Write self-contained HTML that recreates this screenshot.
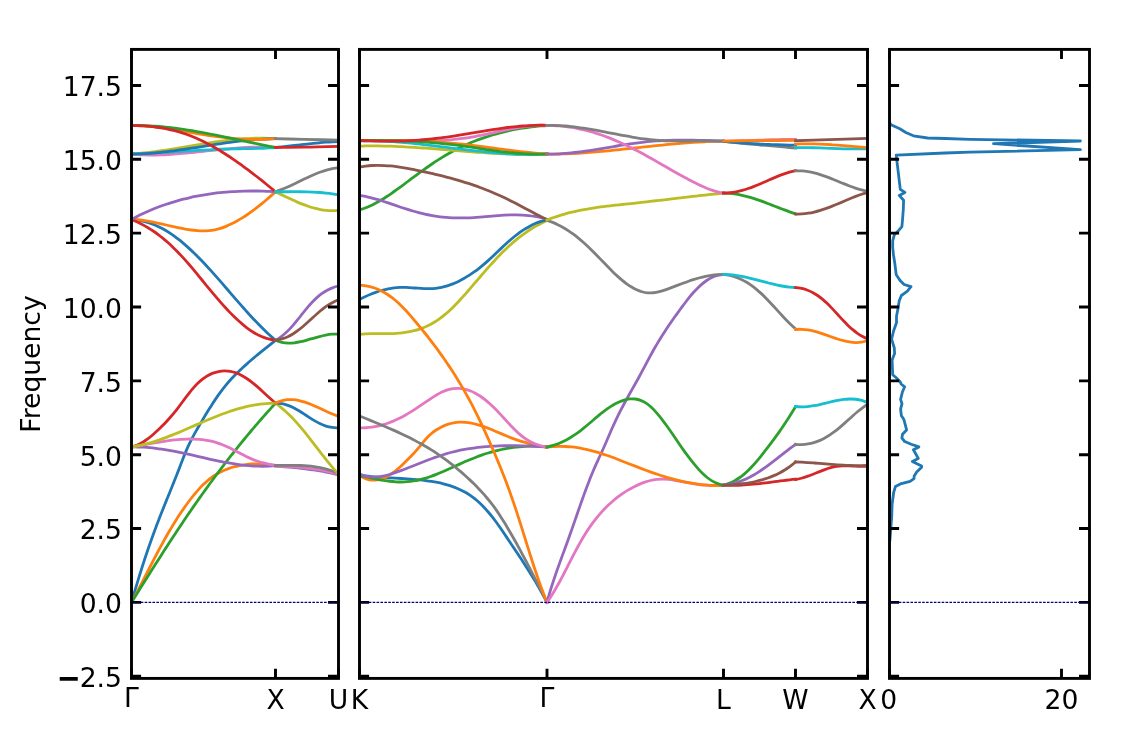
<!DOCTYPE html><html><head><meta charset="utf-8"><style>html,body{margin:0;padding:0;background:#fff;width:1125px;height:732px;overflow:hidden}svg{display:block;will-change:transform}text{font-family:"DejaVu Sans","Liberation Sans",sans-serif;font-size:26.6px;fill:#000}</style></head><body>
<svg width="1125" height="732" viewBox="0 0 1125 732">
<rect width="1125" height="732" fill="#fff"/>
<defs>
<clipPath id="cL"><rect x="131.5" y="49.4" width="207.0" height="629.0"/></clipPath>
<clipPath id="cM"><rect x="359.5" y="49.4" width="508.0" height="629.0"/></clipPath>
<clipPath id="cD"><rect x="889.5" y="49.4" width="200.0" height="629.0"/></clipPath>
</defs>
<g clip-path="url(#cL)" fill="none" stroke-width="2.8" stroke-linecap="square" stroke-linejoin="round">
<path stroke="#1f77b4" d="M131.5,602.4C132.06,600.45 132.62,598.5 133.19,596.56C133.75,594.61 134.32,592.66 134.9,590.72C135.47,588.77 136.05,586.83 136.64,584.88C137.22,582.94 137.81,581 138.4,579.05C139,577.11 139.6,575.17 140.2,573.23C140.81,571.29 141.42,569.35 142.04,567.41C142.66,565.48 143.28,563.54 143.91,561.6C144.54,559.67 145.18,557.73 145.82,555.8C146.46,553.87 147.11,551.94 147.77,550.01C148.43,548.08 149.09,546.15 149.76,544.22C150.44,542.29 151.12,540.37 151.8,538.45C152.49,536.52 153.19,534.6 153.89,532.68C154.59,530.76 155.31,528.84 156.03,526.93C156.75,525.01 157.48,523.09 158.21,521.18C158.95,519.27 159.7,517.36 160.45,515.45C161.2,513.54 161.96,511.64 162.72,509.73C163.48,507.83 164.24,505.93 165.01,504.03C165.77,502.13 166.54,500.23 167.31,498.34C168.08,496.44 168.85,494.55 169.61,492.66C170.38,490.77 171.14,488.88 171.9,487C172.66,485.12 173.42,483.23 174.17,481.36C174.92,479.48 175.67,477.6 176.4,475.73C177.14,473.85 177.87,471.98 178.59,470.12C179.31,468.25 180.02,466.38 180.73,464.52C181.44,462.66 182.15,460.8 182.87,458.95C183.59,457.09 184.33,455.24 185.09,453.39C185.85,451.55 186.63,449.7 187.45,447.86C188.27,446.02 189.12,444.18 190.02,442.34C190.92,440.51 191.87,438.68 192.84,436.85C193.82,435.03 194.82,433.21 195.85,431.39C196.87,429.58 197.92,427.77 198.97,425.98C200.03,424.18 201.08,422.39 202.14,420.61C203.2,418.83 204.25,417.06 205.31,415.31C206.37,413.55 207.44,411.81 208.51,410.08C209.58,408.35 210.66,406.63 211.75,404.93C212.84,403.23 213.94,401.55 215.06,399.88C216.18,398.21 217.31,396.56 218.46,394.93C219.62,393.29 220.8,391.68 222,390.09C223.21,388.49 224.45,386.92 225.73,385.37C227,383.82 228.32,382.29 229.67,380.78C231.02,379.27 232.41,377.79 233.82,376.32C235.24,374.85 236.68,373.4 238.15,371.97C239.62,370.54 241.11,369.12 242.62,367.73C244.13,366.33 245.66,364.95 247.21,363.58C248.75,362.22 250.31,360.87 251.88,359.53C253.45,358.19 255.03,356.87 256.61,355.55C258.19,354.24 259.78,352.94 261.37,351.65C262.95,350.36 264.54,349.09 266.12,347.82C267.7,346.55 269.28,345.29 270.84,344.04C272.41,342.78 273.96,341.54 275.5,340.3"/>
<path stroke="#ff7f0e" d="M131.5,602.4C132.44,600.67 133.38,598.92 134.32,597.17C135.25,595.42 136.18,593.67 137.1,591.91C138.03,590.14 138.95,588.38 139.87,586.6C140.79,584.83 141.7,583.05 142.62,581.27C143.54,579.49 144.45,577.71 145.37,575.93C146.28,574.14 147.2,572.35 148.12,570.56C149.03,568.78 149.95,566.99 150.87,565.2C151.8,563.41 152.72,561.62 153.65,559.83C154.58,558.04 155.51,556.26 156.45,554.48C157.39,552.69 158.34,550.91 159.29,549.14C160.24,547.36 161.2,545.59 162.17,543.82C163.14,542.05 164.11,540.29 165.1,538.54C166.08,536.78 167.08,535.03 168.08,533.29C169.09,531.55 170.11,529.81 171.14,528.09C172.17,526.36 173.21,524.65 174.26,522.94C175.32,521.23 176.39,519.54 177.47,517.85C178.55,516.16 179.65,514.49 180.77,512.83C181.88,511.17 183.01,509.52 184.16,507.88C185.31,506.25 186.47,504.62 187.66,503.02C188.84,501.41 190.05,499.81 191.27,498.24C192.49,496.66 193.74,495.11 195.02,493.58C196.29,492.05 197.59,490.55 198.93,489.09C200.26,487.63 201.63,486.2 203.04,484.83C204.45,483.45 205.9,482.12 207.4,480.85C208.89,479.57 210.43,478.36 212.03,477.2C213.62,476.05 215.27,474.97 216.97,473.96C218.67,472.95 220.43,472.01 222.25,471.16C224.06,470.3 225.93,469.52 227.83,468.82C229.73,468.12 231.66,467.5 233.63,466.95C235.59,466.4 237.57,465.93 239.57,465.54C241.57,465.14 243.59,464.82 245.61,464.57C247.64,464.32 249.67,464.13 251.69,464.02C253.72,463.9 255.75,463.85 257.77,463.86C259.79,463.87 261.8,463.94 263.8,464.07C265.79,464.2 267.77,464.39 269.72,464.63C271.68,464.86 273.6,465.16 275.5,465.5"/>
<path stroke="#2ca02c" d="M131.5,602.4C132.56,600.7 133.63,599 134.69,597.29C135.75,595.59 136.81,593.89 137.88,592.19C138.94,590.49 140,588.79 141.07,587.09C142.13,585.39 143.19,583.69 144.26,582C145.32,580.3 146.39,578.6 147.46,576.91C148.52,575.21 149.59,573.52 150.66,571.83C151.73,570.14 152.8,568.44 153.87,566.75C154.94,565.06 156.02,563.37 157.09,561.69C158.17,560 159.24,558.31 160.32,556.63C161.4,554.94 162.48,553.26 163.56,551.58C164.64,549.9 165.73,548.22 166.82,546.54C167.9,544.86 168.99,543.19 170.08,541.51C171.18,539.84 172.27,538.16 173.37,536.49C174.46,534.82 175.56,533.15 176.67,531.49C177.77,529.82 178.88,528.15 179.99,526.49C181.09,524.83 182.21,523.17 183.32,521.51C184.44,519.85 185.56,518.2 186.68,516.54C187.81,514.89 188.93,513.24 190.06,511.59C191.19,509.94 192.33,508.3 193.47,506.65C194.61,505.01 195.75,503.37 196.9,501.73C198.05,500.09 199.2,498.46 200.36,496.83C201.51,495.19 202.67,493.57 203.84,491.94C205,490.31 206.18,488.69 207.35,487.07C208.52,485.45 209.7,483.83 210.89,482.22C212.07,480.6 213.26,478.99 214.45,477.38C215.65,475.78 216.85,474.17 218.05,472.57C219.25,470.97 220.46,469.37 221.67,467.78C222.88,466.18 224.1,464.59 225.32,463.01C226.55,461.42 227.77,459.84 229,458.26C230.23,456.68 231.47,455.1 232.71,453.53C233.95,451.96 235.2,450.39 236.45,448.82C237.7,447.26 238.96,445.7 240.22,444.14C241.48,442.59 242.75,441.04 244.02,439.49C245.29,437.94 246.56,436.4 247.84,434.86C249.13,433.32 250.41,431.78 251.7,430.25C252.99,428.72 254.29,427.2 255.59,425.67C256.89,424.15 258.2,422.63 259.51,421.12C260.82,419.61 262.14,418.1 263.46,416.6C264.78,415.09 266.11,413.6 267.44,412.1C268.77,410.61 270.11,409.12 271.46,407.64C272.8,406.15 274.15,404.67 275.5,403.2"/>
<path stroke="#d62728" d="M131.5,447C133.51,446.52 135.46,445.85 137.35,445.04C139.24,444.23 141.07,443.27 142.84,442.2C144.62,441.13 146.34,439.95 148.01,438.7C149.68,437.45 151.3,436.12 152.88,434.76C154.46,433.39 156,431.99 157.5,430.59C159,429.18 160.46,427.77 161.89,426.34C163.32,424.91 164.72,423.46 166.09,422C167.46,420.53 168.81,419.04 170.13,417.53C171.46,416.02 172.76,414.48 174.05,412.9C175.34,411.33 176.62,409.72 177.88,408.08C179.15,406.44 180.4,404.75 181.66,403.04C182.92,401.33 184.18,399.61 185.46,397.89C186.73,396.16 188.03,394.45 189.35,392.77C190.68,391.08 192.04,389.43 193.44,387.84C194.84,386.25 196.28,384.71 197.79,383.26C199.29,381.81 200.86,380.44 202.49,379.19C204.12,377.93 205.8,376.78 207.55,375.77C209.29,374.75 211.08,373.88 212.92,373.16C214.76,372.44 216.65,371.89 218.56,371.51C220.48,371.13 222.42,370.92 224.37,370.88C226.33,370.85 228.29,370.99 230.24,371.31C232.19,371.64 234.12,372.15 236.03,372.84C237.94,373.53 239.82,374.4 241.66,375.4C243.51,376.39 245.32,377.51 247.09,378.72C248.87,379.93 250.6,381.21 252.29,382.54C253.98,383.87 255.63,385.25 257.25,386.65C258.87,388.06 260.45,389.48 262.01,390.91C263.57,392.34 265.1,393.77 266.61,395.18C268.12,396.59 269.62,397.98 271.1,399.33C272.57,400.67 274.04,401.97 275.5,403.2"/>
<path stroke="#9467bd" d="M131.5,447C133.54,446.95 135.57,446.94 137.6,446.98C139.63,447.01 141.66,447.09 143.68,447.2C145.7,447.31 147.71,447.46 149.73,447.65C151.74,447.83 153.74,448.05 155.75,448.29C157.75,448.54 159.75,448.81 161.75,449.11C163.75,449.41 165.74,449.73 167.73,450.08C169.73,450.42 171.71,450.79 173.7,451.17C175.69,451.56 177.67,451.96 179.66,452.37C181.64,452.78 183.62,453.21 185.6,453.64C187.58,454.08 189.56,454.52 191.54,454.97C193.52,455.42 195.5,455.87 197.47,456.33C199.45,456.78 201.43,457.23 203.4,457.69C205.38,458.14 207.36,458.59 209.34,459.03C211.32,459.47 213.29,459.9 215.28,460.33C217.26,460.75 219.24,461.16 221.22,461.56C223.2,461.95 225.19,462.33 227.17,462.7C229.16,463.06 231.15,463.4 233.14,463.72C235.13,464.04 237.13,464.33 239.12,464.6C241.12,464.87 243.12,465.11 245.12,465.32C247.13,465.53 249.13,465.71 251.15,465.85C253.16,465.99 255.17,466.1 257.19,466.17C259.21,466.23 261.23,466.26 263.26,466.25C265.29,466.23 267.33,466.17 269.37,466.07C271.4,465.96 273.45,465.81 275.5,465.6"/>
<path stroke="#e377c2" d="M131.5,447C133.57,446.66 135.64,446.31 137.71,445.94C139.78,445.58 141.85,445.21 143.93,444.83C146,444.45 148.07,444.07 150.14,443.7C152.2,443.32 154.27,442.95 156.34,442.6C158.4,442.24 160.47,441.89 162.53,441.57C164.59,441.24 166.65,440.93 168.71,440.65C170.76,440.37 172.82,440.12 174.87,439.9C176.91,439.68 178.96,439.49 181,439.35C183.04,439.2 185.08,439.1 187.11,439.05C189.15,438.99 191.18,438.99 193.2,439.04C195.22,439.09 197.24,439.2 199.25,439.37C201.26,439.54 203.26,439.78 205.26,440.08C207.26,440.39 209.25,440.76 211.23,441.22C213.22,441.67 215.2,442.2 217.16,442.82C219.13,443.44 221.09,444.14 223.05,444.94C225,445.74 226.94,446.62 228.88,447.57C230.82,448.51 232.75,449.51 234.68,450.52C236.61,451.54 238.53,452.57 240.46,453.58C242.38,454.6 244.3,455.59 246.23,456.52C248.15,457.46 250.08,458.33 252.01,459.11C253.94,459.9 255.87,460.61 257.81,461.24C259.75,461.88 261.69,462.45 263.65,462.97C265.6,463.49 267.57,463.95 269.54,464.36C271.51,464.78 273.5,465.16 275.5,465.5"/>
<path stroke="#bcbd22" d="M131.5,447C133.51,446.69 135.5,446.33 137.48,445.93C139.46,445.53 141.43,445.09 143.38,444.61C145.34,444.13 147.29,443.61 149.23,443.06C151.16,442.51 153.09,441.93 155.01,441.32C156.93,440.71 158.84,440.07 160.74,439.4C162.65,438.74 164.54,438.05 166.43,437.33C168.32,436.62 170.21,435.89 172.09,435.14C173.96,434.4 175.84,433.63 177.71,432.86C179.58,432.08 181.44,431.29 183.31,430.49C185.17,429.7 187.03,428.89 188.89,428.08C190.75,427.27 192.61,426.46 194.47,425.65C196.32,424.84 198.18,424.02 200.04,423.22C201.9,422.41 203.76,421.61 205.62,420.81C207.48,420.02 209.34,419.23 211.21,418.46C213.08,417.69 214.95,416.93 216.82,416.18C218.69,415.44 220.57,414.71 222.45,414.01C224.34,413.31 226.23,412.62 228.12,411.96C230.02,411.31 231.92,410.67 233.83,410.07C235.74,409.47 237.66,408.89 239.59,408.35C241.51,407.82 243.45,407.31 245.4,406.84C247.34,406.37 249.3,405.94 251.27,405.56C253.24,405.17 255.21,404.82 257.21,404.53C259.2,404.23 261.2,403.97 263.22,403.77C265.24,403.57 267.27,403.42 269.32,403.32C271.36,403.23 273.42,403.18 275.5,403.2"/>
<path stroke="#1f77b4" d="M131.5,219.5C133.58,219.62 135.62,219.83 137.63,220.13C139.64,220.43 141.61,220.82 143.55,221.28C145.49,221.75 147.4,222.29 149.27,222.91C151.14,223.52 152.99,224.21 154.8,224.97C156.61,225.72 158.4,226.54 160.15,227.43C161.91,228.31 163.64,229.25 165.34,230.24C167.04,231.24 168.71,232.29 170.36,233.38C172.01,234.48 173.64,235.62 175.24,236.8C176.84,237.98 178.42,239.21 179.98,240.46C181.54,241.72 183.08,243.01 184.6,244.33C186.12,245.65 187.62,246.99 189.1,248.36C190.58,249.72 192.05,251.11 193.49,252.51C194.94,253.92 196.38,255.33 197.79,256.76C199.21,258.19 200.62,259.63 202.01,261.08C203.4,262.53 204.78,263.99 206.15,265.46C207.52,266.93 208.88,268.41 210.23,269.9C211.58,271.38 212.92,272.88 214.26,274.38C215.59,275.88 216.92,277.38 218.24,278.89C219.57,280.4 220.88,281.92 222.2,283.43C223.51,284.95 224.82,286.47 226.13,287.99C227.44,289.51 228.74,291.03 230.05,292.55C231.36,294.07 232.66,295.59 233.97,297.11C235.28,298.62 236.59,300.14 237.9,301.65C239.22,303.16 240.54,304.67 241.86,306.17C243.18,307.67 244.51,309.17 245.84,310.65C247.18,312.14 248.52,313.62 249.87,315.1C251.22,316.57 252.58,318.03 253.95,319.49C255.32,320.94 256.7,322.38 258.09,323.81C259.48,325.24 260.89,326.66 262.31,328.07C263.72,329.47 265.16,330.86 266.61,332.24C268.05,333.62 269.52,334.98 271,336.32C272.48,337.66 273.98,338.99 275.5,340.3"/>
<path stroke="#ff7f0e" d="M131.5,219.5C133.45,219.52 135.4,219.61 137.37,219.77C139.33,219.93 141.3,220.15 143.28,220.42C145.26,220.69 147.25,221.01 149.24,221.37C151.23,221.73 153.23,222.12 155.23,222.54C157.23,222.96 159.23,223.41 161.24,223.86C163.24,224.32 165.25,224.79 167.26,225.26C169.26,225.73 171.27,226.19 173.28,226.65C175.29,227.1 177.29,227.54 179.3,227.95C181.3,228.37 183.3,228.75 185.3,229.1C187.29,229.45 189.29,229.76 191.27,230.01C193.26,230.27 195.24,230.47 197.21,230.61C199.18,230.75 201.15,230.83 203.1,230.82C205.06,230.82 207,230.74 208.94,230.57C210.88,230.4 212.8,230.13 214.71,229.77C216.63,229.4 218.53,228.93 220.41,228.35C222.3,227.78 224.17,227.09 226.03,226.33C227.89,225.57 229.73,224.73 231.55,223.83C233.38,222.92 235.18,221.97 236.97,220.97C238.76,219.97 240.53,218.93 242.28,217.84C244.03,216.76 245.76,215.65 247.47,214.49C249.18,213.34 250.86,212.16 252.52,210.94C254.19,209.73 255.82,208.49 257.44,207.23C259.05,205.97 260.64,204.7 262.2,203.41C263.77,202.13 265.3,200.83 266.81,199.53C268.32,198.24 269.79,196.94 271.24,195.65C272.69,194.35 274.11,193.07 275.5,191.8"/>
<path stroke="#d62728" d="M131.5,219.5C133.51,220.3 135.47,221.15 137.38,222.04C139.3,222.94 141.18,223.88 143.01,224.87C144.85,225.85 146.64,226.88 148.4,227.95C150.16,229.02 151.88,230.13 153.57,231.28C155.25,232.43 156.91,233.62 158.53,234.84C160.15,236.06 161.75,237.32 163.31,238.61C164.87,239.9 166.41,241.22 167.92,242.56C169.43,243.91 170.92,245.29 172.38,246.69C173.85,248.09 175.29,249.52 176.72,250.96C178.14,252.41 179.54,253.88 180.93,255.37C182.32,256.86 183.7,258.37 185.06,259.9C186.42,261.42 187.77,262.96 189.11,264.51C190.44,266.07 191.77,267.63 193.1,269.21C194.42,270.79 195.73,272.37 197.04,273.96C198.36,275.56 199.66,277.15 200.97,278.76C202.28,280.36 203.58,281.96 204.89,283.57C206.2,285.18 207.51,286.78 208.83,288.39C210.15,289.99 211.47,291.59 212.8,293.19C214.13,294.78 215.46,296.37 216.81,297.95C218.16,299.53 219.52,301.1 220.9,302.66C222.27,304.22 223.66,305.77 225.07,307.3C226.48,308.83 227.9,310.35 229.35,311.85C230.79,313.34 232.26,314.82 233.75,316.28C235.23,317.74 236.75,319.18 238.28,320.59C239.82,321.99 241.39,323.37 242.98,324.69C244.57,326.02 246.2,327.29 247.85,328.51C249.51,329.73 251.2,330.88 252.92,331.96C254.65,333.04 256.4,334.04 258.2,334.95C260,335.86 261.84,336.68 263.71,337.39C265.59,338.11 267.51,338.72 269.47,339.21C271.44,339.69 273.44,340.06 275.5,340.3"/>
<path stroke="#9467bd" d="M131.5,219.5C133.32,218.49 135.16,217.51 137.01,216.56C138.85,215.62 140.71,214.7 142.58,213.81C144.45,212.92 146.33,212.06 148.23,211.22C150.12,210.39 152.02,209.59 153.93,208.81C155.84,208.03 157.77,207.29 159.7,206.56C161.63,205.84 163.57,205.15 165.52,204.49C167.47,203.82 169.42,203.18 171.39,202.57C173.35,201.95 175.33,201.37 177.31,200.81C179.29,200.25 181.28,199.71 183.27,199.21C185.27,198.7 187.27,198.21 189.28,197.76C191.29,197.3 193.3,196.86 195.32,196.46C197.34,196.05 199.36,195.66 201.39,195.3C203.42,194.94 205.46,194.6 207.5,194.29C209.54,193.98 211.58,193.69 213.63,193.42C215.68,193.16 217.73,192.91 219.78,192.69C221.83,192.47 223.89,192.27 225.95,192.09C228.01,191.92 230.07,191.76 232.13,191.63C234.19,191.5 236.26,191.38 238.33,191.29C240.39,191.2 242.46,191.13 244.53,191.08C246.59,191.03 248.66,191 250.73,190.99C252.8,190.98 254.87,190.99 256.93,191.02C259,191.05 261.07,191.1 263.13,191.17C265.2,191.24 267.26,191.32 269.32,191.43C271.38,191.53 273.44,191.66 275.5,191.8"/>
<path stroke="#e377c2" d="M131.5,154.3C133.51,154.47 135.53,154.6 137.54,154.71C139.55,154.82 141.56,154.9 143.56,154.96C145.57,155.01 147.58,155.04 149.58,155.04C151.59,155.05 153.59,155.03 155.6,154.99C157.6,154.95 159.6,154.89 161.61,154.81C163.61,154.73 165.61,154.64 167.61,154.52C169.61,154.41 171.61,154.28 173.6,154.14C175.6,154 177.6,153.84 179.6,153.67C181.6,153.51 183.59,153.33 185.59,153.14C187.58,152.96 189.58,152.76 191.58,152.56C193.57,152.36 195.57,152.15 197.56,151.94C199.56,151.73 201.55,151.52 203.54,151.3C205.54,151.09 207.53,150.87 209.53,150.66C211.52,150.44 213.52,150.23 215.51,150.02C217.51,149.81 219.5,149.6 221.5,149.4C223.49,149.21 225.49,149.01 227.48,148.83C229.48,148.65 231.47,148.47 233.47,148.31C235.47,148.14 237.46,147.99 239.46,147.85C241.46,147.72 243.46,147.59 245.45,147.48C247.45,147.38 249.45,147.28 251.45,147.21C253.45,147.14 255.45,147.08 257.45,147.05C259.46,147.02 261.46,147.01 263.46,147.02C265.47,147.03 267.47,147.07 269.48,147.13C271.48,147.19 273.49,147.28 275.5,147.4"/>
<path stroke="#bcbd22" d="M131.5,154C133.51,153.88 135.52,153.73 137.53,153.57C139.54,153.4 141.55,153.22 143.55,153.01C145.55,152.81 147.56,152.59 149.56,152.35C151.56,152.11 153.56,151.86 155.55,151.59C157.55,151.32 159.55,151.04 161.54,150.75C163.54,150.46 165.53,150.16 167.52,149.84C169.51,149.53 171.51,149.21 173.5,148.89C175.49,148.56 177.48,148.23 179.47,147.89C181.45,147.56 183.44,147.22 185.43,146.88C187.42,146.53 189.41,146.19 191.4,145.85C193.38,145.51 195.37,145.17 197.36,144.83C199.35,144.49 201.34,144.16 203.32,143.83C205.31,143.5 207.3,143.18 209.29,142.87C211.28,142.55 213.27,142.25 215.26,141.95C217.25,141.66 219.25,141.37 221.24,141.1C223.23,140.83 225.23,140.57 227.22,140.33C229.22,140.09 231.22,139.86 233.21,139.65C235.21,139.44 237.21,139.25 239.22,139.08C241.22,138.91 243.22,138.76 245.23,138.63C247.23,138.5 249.24,138.39 251.25,138.31C253.26,138.23 255.27,138.18 257.29,138.15C259.3,138.12 261.32,138.12 263.34,138.15C265.36,138.18 267.39,138.24 269.41,138.33C271.44,138.42 273.47,138.54 275.5,138.7"/>
<path stroke="#17becf" d="M131.5,154C133.5,153.94 135.5,153.87 137.5,153.79C139.5,153.71 141.5,153.63 143.5,153.54C145.5,153.45 147.5,153.36 149.5,153.26C151.5,153.16 153.5,153.05 155.5,152.94C157.5,152.84 159.5,152.72 161.5,152.61C163.5,152.49 165.5,152.37 167.5,152.25C169.5,152.13 171.5,152.01 173.5,151.89C175.5,151.77 177.5,151.64 179.5,151.52C181.49,151.39 183.49,151.27 185.49,151.15C187.49,151.02 189.49,150.9 191.49,150.78C193.49,150.66 195.49,150.54 197.49,150.43C199.49,150.31 201.49,150.2 203.49,150.09C205.49,149.98 207.49,149.88 209.49,149.78C211.49,149.68 213.49,149.58 215.49,149.49C217.49,149.4 219.49,149.32 221.49,149.24C223.49,149.16 225.49,149.09 227.49,149.03C229.49,148.97 231.49,148.91 233.49,148.86C235.49,148.82 237.49,148.78 239.49,148.75C241.49,148.71 243.49,148.69 245.49,148.66C247.49,148.63 249.49,148.6 251.49,148.57C253.49,148.53 255.49,148.49 257.49,148.44C259.49,148.39 261.49,148.32 263.49,148.24C265.5,148.16 267.5,148.06 269.5,147.94C271.5,147.82 273.5,147.67 275.5,147.5"/>
<path stroke="#1f77b4" d="M131.5,154C133.52,153.99 135.53,153.96 137.55,153.9C139.56,153.84 141.57,153.76 143.58,153.66C145.59,153.56 147.6,153.44 149.6,153.29C151.61,153.15 153.61,152.99 155.61,152.81C157.62,152.63 159.62,152.43 161.62,152.22C163.62,152.01 165.61,151.79 167.61,151.55C169.61,151.31 171.6,151.06 173.6,150.8C175.59,150.53 177.59,150.26 179.58,149.98C181.57,149.7 183.56,149.41 185.56,149.11C187.55,148.81 189.54,148.51 191.53,148.2C193.52,147.9 195.51,147.59 197.5,147.27C199.49,146.96 201.48,146.64 203.47,146.33C205.46,146.01 207.45,145.7 209.44,145.39C211.43,145.07 213.42,144.76 215.41,144.45C217.41,144.15 219.4,143.85 221.39,143.55C223.38,143.25 225.37,142.97 227.37,142.68C229.36,142.4 231.36,142.13 233.35,141.87C235.35,141.61 237.35,141.36 239.35,141.12C241.34,140.88 243.34,140.66 245.34,140.45C247.35,140.24 249.35,140.04 251.35,139.87C253.36,139.69 255.36,139.53 257.37,139.39C259.38,139.25 261.39,139.13 263.4,139.03C265.41,138.93 267.43,138.85 269.44,138.79C271.46,138.74 273.48,138.71 275.5,138.7"/>
<path stroke="#ff7f0e" d="M131.5,125.5C133.52,125.5 135.53,125.53 137.54,125.59C139.55,125.66 141.56,125.76 143.56,125.89C145.57,126.02 147.57,126.18 149.57,126.36C151.57,126.55 153.57,126.76 155.57,126.99C157.57,127.22 159.56,127.48 161.56,127.75C163.55,128.02 165.54,128.31 167.54,128.61C169.53,128.91 171.52,129.22 173.51,129.55C175.5,129.87 177.49,130.21 179.48,130.55C181.47,130.89 183.45,131.23 185.44,131.58C187.43,131.93 189.42,132.27 191.4,132.62C193.39,132.96 195.38,133.31 197.36,133.64C199.35,133.98 201.34,134.31 203.33,134.63C205.31,134.95 207.3,135.25 209.29,135.55C211.28,135.85 213.27,136.13 215.26,136.4C217.25,136.67 219.24,136.93 221.23,137.17C223.22,137.42 225.22,137.64 227.21,137.85C229.21,138.06 231.2,138.25 233.2,138.43C235.2,138.6 237.2,138.75 239.2,138.89C241.2,139.02 243.21,139.14 245.21,139.23C247.22,139.32 249.23,139.39 251.24,139.43C253.25,139.47 255.26,139.49 257.28,139.49C259.29,139.48 261.31,139.45 263.33,139.39C265.35,139.34 267.38,139.25 269.41,139.13C271.43,139.02 273.47,138.88 275.5,138.7"/>
<path stroke="#2ca02c" d="M131.5,125.5C133.54,125.47 135.57,125.46 137.61,125.47C139.64,125.49 141.67,125.53 143.7,125.59C145.73,125.65 147.75,125.74 149.77,125.84C151.8,125.95 153.82,126.08 155.84,126.23C157.86,126.38 159.87,126.54 161.89,126.73C163.9,126.92 165.92,127.12 167.93,127.34C169.94,127.56 171.95,127.8 173.95,128.06C175.96,128.31 177.97,128.58 179.97,128.86C181.98,129.15 183.98,129.45 185.98,129.76C187.98,130.07 189.98,130.39 191.98,130.72C193.98,131.06 195.97,131.4 197.97,131.76C199.96,132.11 201.96,132.48 203.95,132.85C205.95,133.23 207.94,133.61 209.93,134C211.92,134.39 213.91,134.78 215.9,135.18C217.89,135.58 219.88,135.99 221.87,136.4C223.86,136.81 225.85,137.23 227.83,137.64C229.82,138.06 231.81,138.48 233.79,138.9C235.78,139.32 237.77,139.74 239.75,140.16C241.74,140.59 243.72,141.01 245.71,141.43C247.69,141.84 249.68,142.26 251.66,142.68C253.65,143.09 255.64,143.5 257.62,143.91C259.61,144.31 261.59,144.72 263.58,145.11C265.56,145.51 267.55,145.9 269.54,146.28C271.52,146.66 273.51,147.03 275.5,147.4"/>
<path stroke="#d62728" d="M131.5,125.5C133.58,125.5 135.66,125.53 137.71,125.59C139.77,125.65 141.82,125.74 143.85,125.87C145.89,125.99 147.91,126.15 149.92,126.34C151.93,126.54 153.93,126.76 155.91,127.03C157.9,127.29 159.87,127.59 161.83,127.92C163.8,128.26 165.75,128.63 167.68,129.04C169.62,129.45 171.55,129.9 173.46,130.38C175.38,130.87 177.28,131.39 179.17,131.95C181.06,132.52 182.94,133.12 184.81,133.77C186.68,134.41 188.54,135.09 190.39,135.81C192.23,136.54 194.07,137.29 195.89,138.09C197.71,138.88 199.53,139.71 201.33,140.56C203.13,141.42 204.92,142.31 206.7,143.23C208.48,144.15 210.25,145.1 212.01,146.07C213.77,147.04 215.52,148.04 217.25,149.07C218.99,150.09 220.72,151.13 222.44,152.2C224.15,153.27 225.86,154.35 227.55,155.46C229.25,156.56 230.94,157.69 232.61,158.83C234.29,159.96 235.95,161.12 237.61,162.29C239.26,163.45 240.91,164.63 242.55,165.82C244.18,167.01 245.81,168.21 247.42,169.42C249.04,170.63 250.65,171.85 252.24,173.07C253.84,174.29 255.43,175.52 257.01,176.75C258.58,177.99 260.15,179.23 261.71,180.47C263.27,181.71 264.82,182.96 266.36,184.22C267.9,185.47 269.44,186.73 270.96,188C272.48,189.26 274,190.53 275.5,191.8"/>
<path stroke="#9467bd" d="M275.5,466.2C277.62,466.32 279.73,466.46 281.85,466.6C283.97,466.75 286.08,466.91 288.2,467.08C290.31,467.26 292.43,467.44 294.54,467.65C296.66,467.85 298.77,468.07 300.88,468.31C302.99,468.54 305.1,468.8 307.2,469.07C309.31,469.34 311.41,469.64 313.51,469.95C315.61,470.26 317.7,470.59 319.8,470.95C321.89,471.31 323.98,471.68 326.06,472.09C328.14,472.49 330.22,472.92 332.29,473.37C334.37,473.82 336.44,474.3 338.5,474.8"/>
<path stroke="#e377c2" d="M275.5,466C277.62,466.07 279.74,466.15 281.86,466.24C283.98,466.33 286.1,466.43 288.22,466.54C290.34,466.66 292.47,466.79 294.59,466.94C296.71,467.09 298.83,467.27 300.95,467.46C303.06,467.65 305.18,467.87 307.29,468.12C309.4,468.36 311.51,468.63 313.61,468.93C315.71,469.24 317.81,469.57 319.9,469.94C321.99,470.31 324.07,470.71 326.15,471.15C328.22,471.6 330.29,472.08 332.35,472.6C334.41,473.12 336.46,473.69 338.5,474.3"/>
<path stroke="#7f7f7f" d="M275.5,465.5C277.61,465.46 279.74,465.42 281.87,465.39C284,465.35 286.14,465.32 288.28,465.3C290.42,465.29 292.57,465.29 294.71,465.32C296.86,465.35 299,465.4 301.15,465.49C303.29,465.58 305.42,465.71 307.55,465.89C309.68,466.07 311.81,466.29 313.92,466.58C316.03,466.86 318.13,467.21 320.22,467.62C322.3,468.03 324.37,468.51 326.43,469.08C328.48,469.64 330.51,470.28 332.53,471.02C334.54,471.75 336.53,472.57 338.5,473.5"/>
<path stroke="#bcbd22" d="M275.5,403.2C277.24,404.45 278.93,405.75 280.58,407.09C282.22,408.43 283.83,409.81 285.39,411.23C286.96,412.65 288.49,414.1 289.98,415.58C291.48,417.07 292.94,418.58 294.38,420.13C295.81,421.67 297.22,423.24 298.6,424.83C299.99,426.42 301.35,428.03 302.69,429.66C304.04,431.29 305.36,432.93 306.68,434.59C307.99,436.24 309.3,437.91 310.59,439.58C311.89,441.26 313.18,442.94 314.46,444.62C315.75,446.3 317.03,447.99 318.32,449.67C319.61,451.35 320.9,453.02 322.2,454.69C323.49,456.36 324.8,458.02 326.12,459.67C327.44,461.31 328.77,462.95 330.13,464.56C331.48,466.18 332.85,467.78 334.24,469.35C335.64,470.93 337.05,472.48 338.5,474"/>
<path stroke="#1f77b4" d="M275.5,403.2C277.71,403.17 279.84,403.36 281.9,403.73C283.96,404.1 285.94,404.64 287.88,405.33C289.81,406.01 291.69,406.83 293.53,407.75C295.37,408.67 297.17,409.68 298.95,410.76C300.73,411.83 302.49,412.96 304.24,414.1C305.99,415.25 307.73,416.41 309.49,417.55C311.24,418.69 313,419.8 314.79,420.85C316.58,421.9 318.4,422.89 320.25,423.77C322.11,424.65 324,425.43 325.96,426.06C327.91,426.7 329.92,427.18 332.01,427.49C334.09,427.79 336.25,427.91 338.5,427.8"/>
<path stroke="#ff7f0e" d="M275.5,403.2C277.47,402.17 279.44,401.39 281.41,400.82C283.38,400.25 285.34,399.89 287.31,399.71C289.27,399.53 291.23,399.53 293.18,399.68C295.13,399.83 297.08,400.13 299.03,400.55C300.97,400.97 302.9,401.51 304.83,402.14C306.76,402.77 308.68,403.48 310.6,404.26C312.51,405.03 314.42,405.86 316.31,406.72C318.2,407.58 320.09,408.46 321.96,409.34C323.84,410.22 325.7,411.09 327.55,411.93C329.4,412.77 331.24,413.58 333.07,414.32C334.89,415.05 336.7,415.73 338.5,416.3"/>
<path stroke="#2ca02c" d="M275.5,340.3C277.62,341.23 279.73,341.9 281.83,342.35C283.94,342.8 286.04,343.03 288.13,343.08C290.23,343.14 292.32,343.02 294.4,342.77C296.49,342.52 298.58,342.15 300.66,341.69C302.75,341.23 304.83,340.69 306.92,340.11C309,339.53 311.09,338.91 313.18,338.3C315.27,337.69 317.36,337.08 319.45,336.53C321.55,335.98 323.65,335.48 325.76,335.08C327.87,334.68 329.98,334.37 332.1,334.21C334.23,334.05 336.36,334.03 338.5,334.2"/>
<path stroke="#9467bd" d="M275.5,340.3C277.29,339.31 278.98,338.21 280.61,337.03C282.23,335.85 283.78,334.59 285.27,333.27C286.76,331.94 288.19,330.55 289.58,329.1C290.97,327.66 292.31,326.17 293.62,324.64C294.93,323.12 296.22,321.56 297.48,319.99C298.75,318.42 300,316.83 301.25,315.24C302.5,313.65 303.75,312.07 305.01,310.5C306.28,308.93 307.55,307.38 308.86,305.87C310.16,304.35 311.49,302.87 312.87,301.44C314.24,300.02 315.66,298.64 317.14,297.33C318.61,296.02 320.14,294.78 321.74,293.63C323.35,292.47 325.02,291.4 326.78,290.44C328.54,289.47 330.39,288.61 332.34,287.86C334.29,287.12 336.34,286.49 338.5,286"/>
<path stroke="#8c564b" d="M275.5,340.3C277.73,340 279.86,339.52 281.91,338.91C283.95,338.29 285.91,337.53 287.79,336.65C289.67,335.78 291.49,334.78 293.25,333.69C295,332.6 296.71,331.41 298.37,330.16C300.03,328.9 301.65,327.58 303.25,326.22C304.84,324.85 306.42,323.44 307.98,322.02C309.54,320.59 311.1,319.15 312.66,317.71C314.22,316.27 315.78,314.84 317.37,313.44C318.96,312.04 320.57,310.67 322.22,309.36C323.87,308.05 325.56,306.8 327.3,305.63C329.04,304.46 330.83,303.37 332.69,302.39C334.55,301.41 336.48,300.54 338.5,299.8"/>
<path stroke="#7f7f7f" d="M275.5,191.8C277.45,191.14 279.38,190.43 281.28,189.67C283.19,188.91 285.08,188.1 286.95,187.27C288.83,186.44 290.69,185.57 292.55,184.69C294.4,183.81 296.25,182.92 298.09,182.02C299.94,181.12 301.78,180.22 303.63,179.33C305.48,178.44 307.33,177.57 309.19,176.71C311.05,175.86 312.92,175.04 314.81,174.25C316.69,173.47 318.59,172.72 320.51,172.03C322.43,171.33 324.37,170.69 326.34,170.12C328.31,169.55 330.3,169.04 332.32,168.62C334.35,168.19 336.41,167.85 338.5,167.6"/>
<path stroke="#bcbd22" d="M275.5,191.8C277.26,192.64 279.03,193.5 280.82,194.38C282.61,195.25 284.42,196.13 286.25,197C288.07,197.88 289.91,198.75 291.76,199.6C293.61,200.45 295.48,201.29 297.36,202.1C299.24,202.9 301.14,203.68 303.05,204.42C304.95,205.15 306.87,205.84 308.8,206.48C310.73,207.12 312.68,207.7 314.63,208.22C316.58,208.73 318.55,209.18 320.52,209.54C322.49,209.91 324.47,210.19 326.46,210.38C328.45,210.58 330.45,210.67 332.46,210.66C334.47,210.65 336.48,210.54 338.5,210.3"/>
<path stroke="#17becf" d="M275.5,191.8C277.6,191.8 279.7,191.79 281.8,191.77C283.9,191.76 286.01,191.75 288.12,191.74C290.22,191.73 292.33,191.72 294.44,191.72C296.54,191.72 298.65,191.73 300.76,191.75C302.87,191.78 304.98,191.81 307.08,191.87C309.19,191.93 311.29,192 313.4,192.1C315.5,192.2 317.6,192.33 319.7,192.48C321.8,192.63 323.9,192.82 325.99,193.03C328.08,193.25 330.17,193.5 332.26,193.8C334.34,194.09 336.42,194.42 338.5,194.8"/>
<path stroke="#1f77b4" d="M275.5,147.4C277.6,147.22 279.7,147.03 281.8,146.82C283.9,146.62 286,146.4 288.1,146.18C290.19,145.95 292.29,145.72 294.39,145.49C296.48,145.25 298.58,145.01 300.67,144.77C302.77,144.54 304.87,144.3 306.96,144.07C309.06,143.84 311.16,143.61 313.26,143.39C315.35,143.17 317.45,142.97 319.55,142.77C321.65,142.58 323.75,142.4 325.86,142.23C327.96,142.07 330.07,141.92 332.17,141.8C334.28,141.68 336.39,141.58 338.5,141.5"/>
<path stroke="#d62728" d="M275.5,147.4C284.97,147.37 294.43,147.35 303.9,147.2C315.43,147.02 326.97,146.66 338.5,146.3"/>
<path stroke="#7f7f7f" d="M275.5,138.7C284.97,138.89 294.43,139.08 303.9,139.3C315.43,139.57 326.97,139.88 338.5,140.2"/>
</g>
<g clip-path="url(#cM)" fill="none" stroke-width="2.8" stroke-linecap="square" stroke-linejoin="round">
<path stroke="#1f77b4" d="M359.5,475C361.44,475.32 363.4,475.6 365.36,475.85C367.32,476.11 369.29,476.33 371.26,476.53C373.24,476.73 375.22,476.9 377.21,477.06C379.19,477.22 381.19,477.36 383.18,477.49C385.18,477.62 387.18,477.74 389.19,477.85C391.2,477.96 393.2,478.07 395.22,478.18C397.23,478.28 399.24,478.39 401.26,478.5C403.28,478.62 405.29,478.73 407.31,478.87C409.33,479 411.35,479.14 413.37,479.3C415.39,479.46 417.4,479.64 419.42,479.84C421.44,480.05 423.45,480.27 425.46,480.53C427.48,480.79 429.48,481.07 431.48,481.4C433.48,481.72 435.47,482.08 437.45,482.48C439.42,482.87 441.39,483.32 443.33,483.8C445.27,484.29 447.19,484.83 449.09,485.42C450.98,486.01 452.85,486.65 454.69,487.36C456.53,488.06 458.34,488.82 460.11,489.65C461.88,490.48 463.62,491.37 465.31,492.33C467.01,493.3 468.66,494.34 470.27,495.44C471.88,496.55 473.44,497.72 474.97,498.96C476.5,500.19 477.99,501.49 479.44,502.84C480.9,504.19 482.32,505.59 483.7,507.03C485.09,508.48 486.44,509.96 487.77,511.49C489.09,513.01 490.39,514.58 491.66,516.17C492.93,517.76 494.17,519.38 495.39,521.02C496.61,522.66 497.81,524.32 498.99,525.99C500.17,527.66 501.33,529.35 502.48,531.04C503.63,532.73 504.77,534.42 505.91,536.11C507.04,537.81 508.17,539.49 509.3,541.17C510.43,542.85 511.55,544.53 512.67,546.2C513.78,547.87 514.9,549.54 516.01,551.2C517.12,552.87 518.22,554.53 519.32,556.2C520.41,557.86 521.51,559.52 522.59,561.19C523.67,562.85 524.75,564.52 525.82,566.19C526.9,567.86 527.96,569.54 529.01,571.22C530.07,572.89 531.12,574.58 532.16,576.27C533.2,577.96 534.23,579.66 535.25,581.37C536.27,583.08 537.28,584.79 538.28,586.52C539.28,588.25 540.27,589.98 541.25,591.73C542.23,593.48 543.2,595.25 544.16,597.02C545.12,598.8 546.07,600.59 547,602.4"/>
<path stroke="#ff7f0e" d="M359.5,475.3C361.53,476.72 363.53,477.81 365.51,478.59C367.49,479.37 369.44,479.85 371.36,480.07C373.29,480.29 375.19,480.24 377.05,479.98C378.92,479.72 380.76,479.23 382.57,478.57C384.38,477.9 386.16,477.06 387.91,476.07C389.66,475.08 391.37,473.95 393.05,472.72C394.73,471.5 396.38,470.16 397.99,468.77C399.6,467.38 401.18,465.93 402.72,464.45C404.26,462.98 405.76,461.48 407.23,460.01C408.69,458.53 410.11,457.08 411.5,455.66C412.88,454.24 414.23,452.84 415.54,451.39C416.84,449.95 418.11,448.46 419.35,446.93C420.59,445.4 421.82,443.83 423.09,442.28C424.36,440.72 425.66,439.18 427.05,437.7C428.44,436.22 429.93,434.8 431.51,433.47C433.1,432.13 434.78,430.89 436.54,429.75C438.29,428.62 440.12,427.58 441.99,426.67C443.87,425.76 445.79,424.97 447.73,424.31C449.68,423.66 451.65,423.14 453.61,422.78C455.58,422.41 457.55,422.2 459.52,422.13C461.49,422.05 463.45,422.11 465.42,422.28C467.38,422.46 469.35,422.74 471.31,423.12C473.27,423.5 475.23,423.98 477.18,424.53C479.14,425.08 481.09,425.7 483.04,426.37C484.98,427.05 486.93,427.78 488.87,428.54C490.81,429.31 492.74,430.11 494.67,430.92C496.6,431.73 498.52,432.56 500.44,433.38C502.36,434.2 504.27,435.02 506.17,435.8C508.07,436.59 509.97,437.35 511.86,438.07C513.75,438.8 515.64,439.48 517.52,440.12C519.41,440.77 521.3,441.38 523.21,441.95C525.11,442.52 527.02,443.05 528.95,443.54C530.88,444.04 532.83,444.5 534.8,444.92C536.77,445.34 538.77,445.72 540.8,446.07C542.83,446.42 544.9,446.73 547,447"/>
<path stroke="#2ca02c" d="M359.5,475.5C361.55,475.89 363.59,476.31 365.62,476.73C367.66,477.16 369.69,477.59 371.71,478.02C373.73,478.45 375.75,478.87 377.76,479.27C379.77,479.66 381.77,480.04 383.77,480.38C385.77,480.71 387.76,481.01 389.75,481.26C391.74,481.51 393.72,481.7 395.69,481.82C397.67,481.95 399.64,482 401.6,481.98C403.57,481.95 405.52,481.85 407.48,481.67C409.43,481.49 411.38,481.25 413.32,480.93C415.26,480.62 417.19,480.24 419.12,479.8C421.05,479.36 422.98,478.85 424.9,478.3C426.82,477.74 428.73,477.13 430.64,476.46C432.55,475.8 434.45,475.09 436.35,474.34C438.25,473.6 440.15,472.81 442.04,472.01C443.93,471.2 445.82,470.36 447.71,469.52C449.59,468.67 451.48,467.81 453.36,466.95C455.24,466.08 457.13,465.22 459.01,464.37C460.89,463.51 462.77,462.66 464.65,461.84C466.54,461.02 468.42,460.21 470.31,459.44C472.19,458.66 474.08,457.92 475.97,457.2C477.86,456.48 479.75,455.8 481.65,455.14C483.54,454.49 485.44,453.86 487.35,453.27C489.25,452.68 491.16,452.12 493.08,451.59C494.99,451.06 496.92,450.57 498.84,450.12C500.77,449.66 502.71,449.25 504.65,448.87C506.6,448.48 508.55,448.14 510.51,447.84C512.47,447.53 514.45,447.27 516.43,447.05C518.41,446.82 520.4,446.64 522.4,446.5C524.4,446.37 526.41,446.27 528.44,446.22C530.46,446.17 532.5,446.16 534.55,446.2C536.6,446.24 538.66,446.32 540.73,446.46C542.81,446.59 544.9,446.77 547,447"/>
<path stroke="#9467bd" d="M359.5,474C361.47,474.88 363.44,475.54 365.4,476.02C367.36,476.5 369.31,476.8 371.26,476.93C373.2,477.07 375.14,477.05 377.08,476.91C379.02,476.76 380.95,476.49 382.88,476.11C384.81,475.74 386.73,475.27 388.65,474.73C390.57,474.19 392.49,473.58 394.4,472.92C396.31,472.27 398.22,471.58 400.13,470.87C402.04,470.17 403.95,469.44 405.85,468.71C407.76,467.97 409.66,467.23 411.57,466.48C413.47,465.73 415.37,464.98 417.27,464.23C419.18,463.48 421.08,462.73 422.98,461.99C424.88,461.25 426.79,460.52 428.69,459.8C430.6,459.08 432.5,458.38 434.41,457.69C436.32,457.01 438.23,456.35 440.14,455.71C442.05,455.08 443.97,454.47 445.89,453.89C447.81,453.32 449.73,452.78 451.65,452.27C453.58,451.77 455.51,451.3 457.44,450.86C459.38,450.42 461.31,450.02 463.25,449.65C465.19,449.27 467.14,448.93 469.09,448.62C471.03,448.31 472.99,448.03 474.94,447.77C476.9,447.52 478.86,447.29 480.82,447.09C482.78,446.88 484.75,446.71 486.72,446.55C488.69,446.4 490.67,446.27 492.65,446.16C494.62,446.05 496.61,445.97 498.59,445.9C500.58,445.83 502.57,445.78 504.56,445.75C506.55,445.72 508.55,445.71 510.55,445.71C512.56,445.71 514.56,445.73 516.57,445.76C518.58,445.79 520.59,445.84 522.61,445.89C524.63,445.95 526.65,446.02 528.67,446.1C530.7,446.17 532.72,446.26 534.76,446.36C536.79,446.45 538.83,446.55 540.87,446.66C542.91,446.77 544.95,446.88 547,447"/>
<path stroke="#e377c2" d="M359.5,427.8C361.66,427.87 363.78,427.86 365.86,427.75C367.94,427.65 369.98,427.46 371.99,427.19C373.99,426.92 375.96,426.57 377.9,426.15C379.83,425.73 381.74,425.24 383.62,424.68C385.5,424.12 387.35,423.49 389.18,422.81C391.01,422.12 392.82,421.38 394.61,420.58C396.4,419.78 398.17,418.93 399.93,418.03C401.69,417.13 403.44,416.19 405.18,415.2C406.92,414.22 408.64,413.19 410.37,412.14C412.1,411.08 413.82,409.99 415.54,408.87C417.26,407.75 418.98,406.6 420.71,405.44C422.43,404.27 424.16,403.09 425.9,401.92C427.64,400.74 429.39,399.57 431.15,398.42C432.91,397.27 434.69,396.15 436.48,395.07C438.27,394 440.08,392.99 441.9,392.1C443.73,391.2 445.58,390.43 447.45,389.82C449.33,389.21 451.23,388.78 453.14,388.54C455.06,388.29 456.98,388.22 458.89,388.32C460.8,388.41 462.7,388.67 464.56,389.08C466.43,389.48 468.25,390.04 470.05,390.73C471.84,391.42 473.6,392.23 475.33,393.16C477.05,394.09 478.75,395.13 480.41,396.25C482.08,397.38 483.71,398.6 485.32,399.89C486.92,401.18 488.5,402.54 490.05,403.95C491.6,405.36 493.12,406.83 494.62,408.32C496.12,409.81 497.6,411.34 499.05,412.87C500.5,414.41 501.94,415.96 503.35,417.5C504.75,419.04 506.14,420.57 507.52,422.07C508.9,423.58 510.27,425.06 511.64,426.51C513.02,427.96 514.4,429.37 515.81,430.73C517.21,432.09 518.64,433.4 520.11,434.64C521.58,435.89 523.08,437.08 524.64,438.19C526.2,439.29 527.82,440.33 529.5,441.27C531.19,442.21 532.94,443.07 534.79,443.82C536.63,444.57 538.56,445.22 540.59,445.76C542.62,446.29 544.75,446.71 547,447"/>
<path stroke="#7f7f7f" d="M359.5,416C361.41,416.77 363.31,417.54 365.21,418.3C367.11,419.07 369.01,419.84 370.9,420.61C372.8,421.38 374.68,422.15 376.57,422.93C378.45,423.71 380.33,424.49 382.2,425.28C384.08,426.07 385.94,426.86 387.8,427.67C389.66,428.47 391.52,429.28 393.37,430.11C395.22,430.93 397.06,431.76 398.89,432.61C400.72,433.46 402.55,434.32 404.36,435.19C406.18,436.06 407.99,436.95 409.79,437.86C411.59,438.76 413.38,439.68 415.16,440.63C416.94,441.57 418.71,442.53 420.48,443.51C422.24,444.49 423.99,445.49 425.73,446.51C427.47,447.53 429.2,448.58 430.91,449.65C432.63,450.72 434.34,451.82 436.03,452.94C437.72,454.06 439.4,455.21 441.07,456.38C442.74,457.55 444.39,458.74 446.03,459.95C447.67,461.17 449.3,462.4 450.91,463.66C452.52,464.91 454.12,466.19 455.71,467.49C457.29,468.78 458.86,470.1 460.41,471.43C461.96,472.76 463.5,474.11 465.02,475.48C466.54,476.85 468.04,478.23 469.53,479.63C471.01,481.03 472.48,482.44 473.93,483.87C475.38,485.3 476.81,486.75 478.21,488.22C479.62,489.68 481,491.17 482.36,492.67C483.72,494.17 485.06,495.69 486.37,497.23C487.67,498.77 488.95,500.33 490.21,501.9C491.46,503.48 492.68,505.08 493.87,506.7C495.06,508.32 496.22,509.96 497.36,511.61C498.49,513.27 499.6,514.95 500.68,516.64C501.77,518.33 502.84,520.03 503.9,521.75C504.95,523.47 506,525.2 507.03,526.93C508.07,528.67 509.09,530.42 510.11,532.17C511.13,533.93 512.14,535.69 513.14,537.46C514.15,539.23 515.14,541.01 516.13,542.79C517.12,544.58 518.1,546.37 519.08,548.16C520.05,549.96 521.02,551.76 521.99,553.56C522.95,555.36 523.91,557.17 524.87,558.98C525.82,560.79 526.77,562.6 527.72,564.41C528.67,566.23 529.61,568.04 530.55,569.86C531.49,571.67 532.43,573.48 533.37,575.3C534.3,577.11 535.24,578.93 536.17,580.74C537.1,582.55 538.03,584.36 538.96,586.16C539.88,587.97 540.8,589.78 541.71,591.58C542.61,593.39 543.51,595.19 544.39,596.99C545.28,598.8 546.15,600.6 547,602.4"/>
<path stroke="#bcbd22" d="M359.5,334.3C361.48,334.11 363.48,333.98 365.49,333.88C367.51,333.79 369.53,333.74 371.57,333.71C373.6,333.68 375.65,333.67 377.69,333.67C379.74,333.67 381.79,333.68 383.85,333.67C385.9,333.67 387.95,333.65 389.99,333.6C392.03,333.55 394.07,333.48 396.1,333.35C398.13,333.23 400.15,333.06 402.15,332.82C404.15,332.59 406.14,332.3 408.11,331.95C410.07,331.6 412.02,331.18 413.94,330.7C415.86,330.22 417.76,329.67 419.63,329.05C421.49,328.43 423.33,327.74 425.13,326.97C426.93,326.21 428.7,325.36 430.43,324.45C432.16,323.53 433.85,322.54 435.51,321.48C437.17,320.42 438.8,319.3 440.39,318.12C441.99,316.93 443.56,315.7 445.1,314.41C446.64,313.12 448.15,311.79 449.64,310.41C451.13,309.04 452.6,307.62 454.05,306.18C455.49,304.73 456.92,303.25 458.33,301.75C459.74,300.25 461.14,298.73 462.52,297.19C463.9,295.66 465.26,294.11 466.62,292.55C467.98,291 469.33,289.44 470.67,287.88C472.01,286.32 473.34,284.76 474.67,283.21C476,281.66 477.33,280.1 478.65,278.56C479.98,277.01 481.3,275.48 482.63,273.94C483.95,272.41 485.28,270.89 486.61,269.38C487.94,267.86 489.28,266.36 490.62,264.87C491.96,263.38 493.31,261.9 494.67,260.43C496.03,258.97 497.4,257.52 498.79,256.09C500.17,254.66 501.57,253.24 502.98,251.85C504.39,250.45 505.82,249.07 507.26,247.72C508.71,246.36 510.18,245.03 511.66,243.72C513.15,242.41 514.66,241.12 516.19,239.87C517.72,238.61 519.28,237.37 520.86,236.17C522.45,234.96 524.06,233.78 525.7,232.64C527.34,231.49 529.01,230.38 530.71,229.29C532.41,228.21 534.15,227.16 535.92,226.15C537.69,225.13 539.5,224.15 541.35,223.21C543.19,222.27 545.07,221.36 547,220.5"/>
<path stroke="#1f77b4" d="M359.5,299.5C361.32,298.54 363.17,297.61 365.03,296.73C366.89,295.86 368.77,295.02 370.67,294.25C372.57,293.47 374.48,292.74 376.41,292.08C378.33,291.41 380.27,290.81 382.22,290.27C384.17,289.74 386.13,289.27 388.1,288.87C390.07,288.48 392.05,288.15 394.04,287.91C396.02,287.67 398.01,287.52 400,287.45C402,287.37 403.99,287.39 405.99,287.46C407.99,287.52 409.99,287.64 411.99,287.78C413.98,287.92 415.98,288.08 417.97,288.22C419.97,288.37 421.95,288.5 423.94,288.58C425.92,288.67 427.89,288.7 429.86,288.66C431.83,288.62 433.79,288.5 435.73,288.27C437.68,288.05 439.62,287.72 441.54,287.31C443.46,286.9 445.37,286.39 447.26,285.81C449.16,285.23 451.03,284.56 452.89,283.83C454.75,283.09 456.59,282.28 458.41,281.41C460.23,280.53 462.02,279.59 463.8,278.59C465.57,277.59 467.32,276.54 469.04,275.44C470.77,274.33 472.47,273.18 474.14,271.98C475.81,270.79 477.45,269.55 479.06,268.29C480.67,267.02 482.25,265.72 483.8,264.39C485.35,263.06 486.88,261.71 488.39,260.35C489.9,258.98 491.39,257.6 492.87,256.21C494.35,254.82 495.82,253.42 497.28,252.03C498.74,250.64 500.2,249.25 501.67,247.87C503.13,246.49 504.59,245.12 506.07,243.77C507.54,242.42 509.03,241.09 510.53,239.79C512.03,238.5 513.55,237.22 515.09,235.99C516.64,234.76 518.2,233.56 519.8,232.41C521.4,231.27 523.03,230.16 524.7,229.12C526.37,228.07 528.07,227.08 529.82,226.15C531.57,225.23 533.37,224.37 535.22,223.58C537.07,222.79 538.97,222.08 540.93,221.44C542.89,220.81 544.91,220.26 547,219.8"/>
<path stroke="#ff7f0e" d="M359.5,285.2C361.65,285.26 363.74,285.45 365.77,285.76C367.8,286.07 369.77,286.5 371.69,287.04C373.6,287.58 375.47,288.22 377.28,288.97C379.09,289.71 380.86,290.55 382.58,291.47C384.3,292.4 385.98,293.41 387.61,294.49C389.25,295.58 390.84,296.73 392.41,297.95C393.97,299.18 395.49,300.46 396.99,301.79C398.48,303.13 399.95,304.52 401.39,305.94C402.83,307.37 404.24,308.84 405.63,310.33C407.02,311.83 408.39,313.35 409.75,314.89C411.1,316.43 412.44,317.99 413.76,319.56C415.09,321.13 416.4,322.7 417.71,324.27C419.01,325.84 420.31,327.42 421.59,329C422.87,330.58 424.15,332.16 425.41,333.75C426.67,335.34 427.92,336.93 429.16,338.53C430.4,340.13 431.63,341.74 432.85,343.35C434.07,344.96 435.28,346.57 436.48,348.2C437.68,349.82 438.86,351.45 440.04,353.09C441.22,354.72 442.38,356.37 443.54,358.02C444.69,359.68 445.84,361.34 446.97,363.01C448.1,364.67 449.22,366.35 450.33,368.03C451.44,369.72 452.54,371.41 453.63,373.11C454.71,374.81 455.79,376.52 456.85,378.23C457.91,379.94 458.96,381.66 459.99,383.39C461.03,385.12 462.05,386.85 463.06,388.6C464.07,390.34 465.06,392.09 466.04,393.84C467.03,395.59 467.99,397.36 468.95,399.12C469.9,400.89 470.85,402.67 471.78,404.45C472.71,406.23 473.63,408.01 474.54,409.8C475.45,411.59 476.34,413.39 477.23,415.19C478.12,417 479,418.81 479.87,420.62C480.74,422.43 481.6,424.25 482.45,426.08C483.3,427.9 484.15,429.73 484.98,431.56C485.82,433.4 486.65,435.24 487.48,437.08C488.3,438.92 489.12,440.77 489.93,442.62C490.74,444.47 491.55,446.33 492.35,448.19C493.16,450.05 493.96,451.91 494.75,453.78C495.54,455.64 496.33,457.52 497.12,459.39C497.9,461.26 498.68,463.14 499.45,465.02C500.22,466.9 500.98,468.79 501.74,470.68C502.49,472.56 503.24,474.45 503.98,476.35C504.72,478.24 505.45,480.13 506.17,482.03C506.89,483.93 507.6,485.83 508.3,487.73C509,489.64 509.69,491.54 510.37,493.45C511.05,495.35 511.72,497.26 512.38,499.17C513.04,501.08 513.69,502.99 514.33,504.91C514.97,506.82 515.61,508.73 516.23,510.65C516.86,512.56 517.49,514.48 518.1,516.4C518.72,518.32 519.33,520.23 519.94,522.15C520.55,524.07 521.16,525.99 521.76,527.91C522.36,529.83 522.96,531.75 523.56,533.67C524.16,535.59 524.76,537.51 525.36,539.43C525.96,541.35 526.56,543.27 527.16,545.19C527.76,547.11 528.36,549.03 528.97,550.95C529.57,552.87 530.18,554.79 530.79,556.7C531.41,558.62 532.02,560.54 532.65,562.45C533.27,564.37 533.9,566.28 534.53,568.19C535.17,570.11 535.81,572.02 536.46,573.93C537.11,575.83 537.77,577.74 538.44,579.65C539.1,581.55 539.78,583.46 540.47,585.36C541.16,587.26 541.86,589.16 542.57,591.05C543.28,592.95 544.01,594.84 544.75,596.73C545.48,598.63 546.23,600.51 547,602.4"/>
<path stroke="#2ca02c" d="M359.5,210C361.38,209.41 363.25,208.76 365.09,208.03C366.94,207.31 368.76,206.52 370.57,205.67C372.38,204.83 374.17,203.93 375.95,202.98C377.72,202.02 379.49,201.02 381.23,199.98C382.98,198.94 384.72,197.86 386.45,196.74C388.17,195.62 389.89,194.47 391.59,193.3C393.3,192.12 395,190.92 396.69,189.71C398.38,188.49 400.06,187.25 401.74,186.01C403.42,184.76 405.1,183.51 406.77,182.25C408.44,181 410.11,179.74 411.78,178.49C413.45,177.24 415.12,175.99 416.79,174.76C418.46,173.53 420.13,172.3 421.81,171.1C423.48,169.89 425.16,168.69 426.84,167.51C428.53,166.33 430.22,165.17 431.92,164.03C433.62,162.88 435.32,161.75 437.04,160.65C438.75,159.54 440.48,158.46 442.21,157.39C443.95,156.33 445.7,155.29 447.46,154.27C449.22,153.26 451,152.27 452.79,151.31C454.58,150.34 456.39,149.41 458.21,148.5C460.04,147.59 461.87,146.71 463.72,145.85C465.57,145 467.44,144.17 469.31,143.37C471.19,142.57 473.08,141.79 474.98,141.05C476.88,140.3 478.79,139.58 480.72,138.88C482.64,138.19 484.57,137.52 486.52,136.88C488.46,136.24 490.42,135.62 492.38,135.03C494.35,134.45 496.32,133.88 498.3,133.35C500.28,132.81 502.27,132.3 504.27,131.82C506.27,131.34 508.27,130.88 510.28,130.45C512.3,130.02 514.31,129.62 516.34,129.24C518.36,128.86 520.39,128.51 522.42,128.18C524.46,127.85 526.5,127.55 528.54,127.28C530.58,127 532.63,126.75 534.68,126.53C536.73,126.31 538.78,126.11 540.83,125.94C542.89,125.77 544.94,125.62 547,125.5"/>
<path stroke="#9467bd" d="M359.5,195.3C361.44,195.61 363.38,195.97 365.33,196.39C367.27,196.8 369.22,197.27 371.18,197.78C373.13,198.29 375.09,198.84 377.06,199.42C379.02,200 380.99,200.61 382.96,201.24C384.93,201.87 386.9,202.52 388.88,203.19C390.86,203.85 392.84,204.52 394.82,205.2C396.81,205.87 398.8,206.54 400.79,207.21C402.78,207.87 404.77,208.53 406.77,209.17C408.77,209.8 410.77,210.42 412.77,211.01C414.78,211.6 416.78,212.15 418.79,212.67C420.8,213.19 422.81,213.67 424.83,214.11C426.84,214.55 428.86,214.95 430.87,215.31C432.89,215.67 434.91,215.99 436.94,216.28C438.96,216.56 440.98,216.81 443.01,217.02C445.04,217.23 447.06,217.4 449.09,217.54C451.12,217.68 453.16,217.78 455.19,217.84C457.22,217.91 459.26,217.94 461.29,217.93C463.33,217.93 465.36,217.89 467.4,217.82C469.44,217.75 471.48,217.65 473.52,217.53C475.56,217.4 477.6,217.26 479.64,217.1C481.68,216.95 483.73,216.78 485.77,216.6C487.81,216.43 489.85,216.26 491.9,216.09C493.94,215.92 495.99,215.75 498.03,215.6C500.07,215.45 502.12,215.32 504.16,215.21C506.2,215.1 508.25,215.01 510.29,214.96C512.33,214.9 514.38,214.88 516.42,214.91C518.46,214.93 520.51,214.99 522.55,215.1C524.59,215.22 526.63,215.38 528.67,215.61C530.71,215.83 532.75,216.12 534.79,216.47C536.82,216.83 538.86,217.25 540.9,217.75C542.93,218.25 544.97,218.83 547,219.5"/>
<path stroke="#8c564b" d="M359.5,167C361.57,166.61 363.63,166.3 365.7,166.05C367.76,165.81 369.82,165.63 371.88,165.52C373.94,165.41 376,165.35 378.06,165.36C380.11,165.36 382.17,165.42 384.22,165.53C386.27,165.63 388.31,165.78 390.36,165.98C392.41,166.17 394.45,166.41 396.49,166.67C398.53,166.94 400.57,167.24 402.6,167.57C404.63,167.9 406.66,168.25 408.69,168.63C410.72,169 412.74,169.4 414.77,169.8C416.79,170.21 418.81,170.62 420.82,171.05C422.83,171.47 424.85,171.9 426.85,172.34C428.86,172.78 430.86,173.23 432.86,173.69C434.86,174.15 436.86,174.62 438.85,175.1C440.85,175.58 442.83,176.08 444.82,176.59C446.8,177.09 448.78,177.62 450.76,178.15C452.73,178.69 454.71,179.24 456.67,179.81C458.64,180.37 460.6,180.96 462.56,181.56C464.52,182.16 466.47,182.78 468.42,183.42C470.37,184.06 472.31,184.71 474.25,185.39C476.19,186.07 478.12,186.76 480.05,187.48C481.98,188.19 483.9,188.93 485.82,189.69C487.74,190.44 489.65,191.22 491.56,192.02C493.47,192.82 495.37,193.64 497.27,194.48C499.17,195.32 501.06,196.18 502.94,197.07C504.83,197.96 506.71,198.87 508.58,199.79C510.45,200.72 512.32,201.67 514.18,202.62C516.04,203.58 517.9,204.55 519.75,205.52C521.6,206.49 523.44,207.46 525.28,208.43C527.11,209.41 528.95,210.37 530.77,211.33C532.59,212.29 534.41,213.24 536.22,214.17C538.03,215.1 539.83,216.02 541.63,216.91C543.43,217.8 545.22,218.66 547,219.5"/>
<path stroke="#e377c2" d="M359.5,140.6C361.56,140.59 363.61,140.59 365.66,140.6C367.71,140.6 369.76,140.62 371.81,140.64C373.85,140.66 375.9,140.69 377.94,140.72C379.98,140.75 382.02,140.78 384.06,140.82C386.1,140.85 388.14,140.89 390.17,140.93C392.2,140.96 394.24,141 396.27,141.03C398.3,141.07 400.33,141.1 402.35,141.13C404.38,141.15 406.41,141.17 408.43,141.19C410.45,141.2 412.48,141.21 414.5,141.21C416.52,141.21 418.54,141.2 420.56,141.18C422.57,141.16 424.59,141.13 426.61,141.09C428.62,141.05 430.64,140.99 432.65,140.92C434.66,140.85 436.67,140.76 438.68,140.66C440.7,140.55 442.71,140.43 444.72,140.3C446.72,140.16 448.73,140 450.74,139.82C452.75,139.64 454.75,139.44 456.76,139.22C458.77,138.99 460.77,138.75 462.78,138.47C464.78,138.2 466.79,137.9 468.79,137.58C470.8,137.26 472.8,136.9 474.8,136.53C476.81,136.15 478.81,135.76 480.81,135.35C482.82,134.94 484.82,134.51 486.82,134.08C488.82,133.64 490.83,133.2 492.83,132.76C494.83,132.31 496.83,131.87 498.84,131.43C500.84,130.99 502.84,130.55 504.85,130.13C506.85,129.7 508.85,129.29 510.86,128.9C512.86,128.51 514.87,128.13 516.87,127.79C518.88,127.44 520.88,127.11 522.89,126.82C524.89,126.53 526.9,126.27 528.91,126.05C530.92,125.83 532.92,125.65 534.93,125.51C536.94,125.38 538.95,125.29 540.96,125.25C542.97,125.21 544.99,125.23 547,125.3"/>
<path stroke="#bcbd22" d="M359.5,146.1C361.52,146.04 363.55,146 365.57,145.97C367.59,145.94 369.61,145.92 371.63,145.92C373.65,145.91 375.67,145.92 377.69,145.95C379.71,145.97 381.73,146 383.75,146.04C385.77,146.09 387.78,146.14 389.8,146.21C391.82,146.27 393.84,146.35 395.85,146.43C397.87,146.51 399.88,146.61 401.9,146.71C403.92,146.81 405.93,146.91 407.95,147.03C409.96,147.14 411.97,147.27 413.99,147.39C416,147.52 418.02,147.65 420.03,147.79C422.04,147.93 424.06,148.08 426.07,148.22C428.08,148.37 430.1,148.52 432.11,148.68C434.12,148.83 436.13,148.99 438.15,149.15C440.16,149.31 442.17,149.47 444.18,149.63C446.2,149.8 448.21,149.96 450.22,150.12C452.23,150.29 454.25,150.45 456.26,150.61C458.27,150.78 460.28,150.94 462.3,151.1C464.31,151.26 466.32,151.42 468.33,151.57C470.35,151.73 472.36,151.88 474.37,152.03C476.38,152.18 478.4,152.32 480.41,152.46C482.42,152.6 484.44,152.74 486.45,152.87C488.47,152.99 490.48,153.12 492.49,153.23C494.51,153.35 496.52,153.46 498.54,153.56C500.55,153.66 502.57,153.76 504.59,153.84C506.6,153.93 508.62,154 510.64,154.07C512.65,154.14 514.67,154.19 516.69,154.24C518.7,154.29 520.72,154.32 522.74,154.34C524.76,154.37 526.78,154.38 528.8,154.38C530.82,154.38 532.84,154.36 534.86,154.34C536.88,154.31 538.91,154.27 540.93,154.21C542.95,154.16 544.98,154.09 547,154"/>
<path stroke="#17becf" d="M359.5,140.8C361.53,140.76 363.56,140.74 365.59,140.74C367.62,140.74 369.64,140.75 371.67,140.79C373.69,140.82 375.72,140.87 377.74,140.93C379.76,141 381.78,141.08 383.8,141.18C385.82,141.27 387.84,141.39 389.86,141.51C391.88,141.63 393.89,141.77 395.91,141.92C397.93,142.07 399.94,142.23 401.96,142.4C403.97,142.57 405.98,142.75 407.99,142.94C410.01,143.13 412.02,143.33 414.03,143.54C416.04,143.75 418.05,143.96 420.06,144.18C422.07,144.41 424.08,144.64 426.09,144.87C428.1,145.1 430.11,145.34 432.12,145.58C434.12,145.83 436.13,146.07 438.14,146.32C440.15,146.57 442.16,146.82 444.16,147.08C446.17,147.33 448.18,147.58 450.19,147.84C452.19,148.09 454.2,148.35 456.21,148.6C458.22,148.85 460.22,149.1 462.23,149.35C464.24,149.59 466.25,149.84 468.26,150.08C470.26,150.31 472.27,150.55 474.28,150.78C476.29,151.01 478.3,151.23 480.31,151.44C482.32,151.66 484.33,151.87 486.34,152.07C488.36,152.26 490.37,152.46 492.38,152.64C494.39,152.82 496.41,152.99 498.42,153.15C500.44,153.3 502.45,153.45 504.47,153.59C506.49,153.72 508.5,153.85 510.52,153.96C512.54,154.07 514.56,154.16 516.58,154.24C518.6,154.33 520.62,154.39 522.65,154.44C524.67,154.49 526.7,154.53 528.72,154.54C530.75,154.56 532.78,154.56 534.81,154.54C536.84,154.52 538.87,154.49 540.9,154.43C542.93,154.37 544.96,154.3 547,154.2"/>
<path stroke="#ff7f0e" d="M359.5,140.6C361.53,140.56 363.56,140.53 365.59,140.5C367.63,140.47 369.66,140.44 371.68,140.42C373.71,140.4 375.74,140.39 377.77,140.38C379.8,140.37 381.82,140.37 383.85,140.37C385.88,140.37 387.9,140.38 389.93,140.4C391.95,140.41 393.97,140.44 396,140.46C398.02,140.49 400.04,140.53 402.06,140.57C404.09,140.61 406.11,140.66 408.13,140.72C410.15,140.77 412.17,140.84 414.19,140.91C416.21,140.98 418.22,141.06 420.24,141.14C422.26,141.23 424.28,141.32 426.3,141.43C428.31,141.53 430.33,141.64 432.35,141.76C434.36,141.88 436.38,142.01 438.39,142.15C440.41,142.28 442.42,142.43 444.44,142.58C446.45,142.74 448.47,142.9 450.48,143.08C452.49,143.25 454.51,143.43 456.52,143.63C458.53,143.82 460.55,144.03 462.56,144.24C464.57,144.45 466.58,144.68 468.59,144.91C470.61,145.14 472.62,145.38 474.63,145.63C476.64,145.87 478.65,146.13 480.66,146.39C482.67,146.64 484.68,146.91 486.69,147.17C488.7,147.44 490.71,147.7 492.72,147.97C494.74,148.24 496.75,148.51 498.76,148.78C500.77,149.04 502.78,149.31 504.79,149.57C506.8,149.84 508.81,150.1 510.82,150.35C512.83,150.61 514.84,150.86 516.84,151.1C518.85,151.35 520.86,151.58 522.87,151.81C524.88,152.04 526.89,152.26 528.9,152.47C530.92,152.67 532.93,152.87 534.94,153.06C536.95,153.24 538.96,153.41 540.97,153.57C542.98,153.73 544.99,153.87 547,154"/>
<path stroke="#2ca02c" d="M359.5,140.6C361.54,140.57 363.58,140.54 365.61,140.53C367.65,140.51 369.68,140.49 371.71,140.49C373.75,140.48 375.78,140.48 377.81,140.49C379.83,140.5 381.86,140.51 383.89,140.54C385.91,140.56 387.94,140.59 389.96,140.63C391.99,140.66 394.01,140.71 396.03,140.76C398.05,140.82 400.07,140.88 402.09,140.95C404.11,141.02 406.12,141.1 408.14,141.18C410.16,141.27 412.17,141.37 414.19,141.47C416.2,141.57 418.21,141.69 420.23,141.81C422.24,141.94 424.25,142.07 426.26,142.21C428.28,142.36 430.29,142.51 432.3,142.67C434.31,142.83 436.32,143.01 438.33,143.19C440.33,143.37 442.34,143.57 444.35,143.77C446.36,143.98 448.37,144.2 450.38,144.42C452.38,144.65 454.39,144.89 456.4,145.14C458.41,145.39 460.41,145.65 462.42,145.92C464.43,146.2 466.44,146.48 468.44,146.78C470.45,147.07 472.46,147.37 474.46,147.68C476.47,147.99 478.48,148.3 480.49,148.61C482.5,148.91 484.5,149.22 486.51,149.53C488.52,149.83 490.53,150.13 492.54,150.42C494.55,150.71 496.56,150.99 498.57,151.26C500.58,151.52 502.59,151.78 504.6,152.02C506.62,152.25 508.63,152.47 510.64,152.68C512.66,152.88 514.67,153.07 516.69,153.23C518.7,153.4 520.72,153.55 522.74,153.67C524.75,153.79 526.77,153.9 528.79,153.98C530.81,154.06 532.83,154.11 534.85,154.14C536.87,154.17 538.9,154.18 540.92,154.15C542.95,154.13 544.97,154.08 547,154"/>
<path stroke="#d62728" d="M359.5,140.5C361.55,140.59 363.59,140.67 365.63,140.75C367.67,140.82 369.71,140.89 371.74,140.95C373.78,141 375.81,141.05 377.85,141.09C379.88,141.13 381.91,141.16 383.94,141.17C385.97,141.19 387.99,141.2 390.02,141.19C392.04,141.18 394.07,141.16 396.09,141.13C398.11,141.1 400.13,141.05 402.15,140.99C404.17,140.93 406.18,140.85 408.2,140.76C410.22,140.67 412.23,140.56 414.24,140.44C416.26,140.31 418.27,140.17 420.28,140.01C422.29,139.86 424.3,139.68 426.31,139.49C428.32,139.3 430.33,139.1 432.34,138.88C434.35,138.66 436.36,138.42 438.36,138.17C440.37,137.93 442.38,137.66 444.38,137.39C446.39,137.11 448.39,136.82 450.4,136.52C452.4,136.22 454.41,135.91 456.41,135.6C458.42,135.28 460.42,134.96 462.43,134.63C464.43,134.3 466.44,133.97 468.44,133.64C470.44,133.3 472.45,132.96 474.45,132.63C476.46,132.29 478.47,131.96 480.47,131.62C482.48,131.29 484.48,130.96 486.49,130.64C488.5,130.32 490.5,130 492.51,129.69C494.52,129.38 496.53,129.08 498.54,128.79C500.55,128.5 502.56,128.22 504.57,127.96C506.58,127.69 508.59,127.44 510.61,127.21C512.62,126.97 514.63,126.75 516.65,126.55C518.67,126.35 520.68,126.17 522.7,126.01C524.72,125.85 526.74,125.71 528.76,125.6C530.78,125.49 532.81,125.4 534.83,125.33C536.86,125.27 538.88,125.24 540.91,125.23C542.94,125.22 544.97,125.25 547,125.3"/>
<path stroke="#9467bd" d="M547,602.4C547.5,600.48 548.02,598.55 548.56,596.63C549.11,594.71 549.67,592.79 550.25,590.87C550.83,588.94 551.43,587.02 552.05,585.11C552.66,583.19 553.29,581.27 553.93,579.35C554.57,577.43 555.23,575.52 555.89,573.6C556.56,571.68 557.23,569.77 557.91,567.86C558.59,565.94 559.28,564.03 559.97,562.12C560.67,560.21 561.36,558.3 562.06,556.39C562.76,554.48 563.46,552.57 564.16,550.66C564.86,548.76 565.56,546.85 566.26,544.95C566.95,543.04 567.64,541.14 568.33,539.24C569.01,537.33 569.69,535.43 570.36,533.53C571.04,531.64 571.71,529.74 572.37,527.84C573.03,525.95 573.69,524.05 574.35,522.16C575.01,520.26 575.67,518.37 576.32,516.48C576.98,514.59 577.63,512.7 578.29,510.82C578.95,508.93 579.61,507.05 580.27,505.16C580.93,503.28 581.6,501.4 582.27,499.52C582.94,497.64 583.61,495.76 584.29,493.88C584.97,492.01 585.66,490.13 586.36,488.26C587.05,486.39 587.76,484.52 588.48,482.65C589.2,480.78 589.93,478.91 590.68,477.05C591.42,475.18 592.19,473.32 592.97,471.46C593.75,469.6 594.56,467.74 595.38,465.89C596.21,464.03 597.05,462.18 597.91,460.32C598.76,458.47 599.63,456.62 600.48,454.78C601.34,452.93 602.19,451.08 603.01,449.24C603.84,447.4 604.65,445.56 605.45,443.72C606.24,441.88 607.03,440.05 607.81,438.21C608.6,436.38 609.38,434.55 610.17,432.72C610.96,430.9 611.75,429.07 612.56,427.25C613.37,425.42 614.2,423.6 615.05,421.79C615.9,419.97 616.77,418.16 617.66,416.34C618.55,414.53 619.46,412.72 620.39,410.92C621.32,409.11 622.26,407.31 623.22,405.5C624.18,403.7 625.15,401.91 626.13,400.11C627.12,398.32 628.11,396.52 629.11,394.74C630.11,392.95 631.12,391.16 632.13,389.38C633.14,387.59 634.14,385.81 635.14,384.04C636.14,382.26 637.13,380.49 638.11,378.72C639.09,376.95 640.04,375.18 640.99,373.42C641.93,371.66 642.86,369.9 643.79,368.14C644.71,366.39 645.63,364.64 646.56,362.89C647.48,361.14 648.4,359.4 649.34,357.66C650.27,355.92 651.21,354.19 652.17,352.46C653.13,350.73 654.1,349 655.1,347.28C656.1,345.56 657.11,343.84 658.15,342.13C659.18,340.41 660.23,338.7 661.3,337C662.37,335.3 663.46,333.6 664.56,331.91C665.66,330.21 666.78,328.52 667.91,326.84C669.04,325.16 670.18,323.48 671.34,321.81C672.49,320.13 673.66,318.46 674.84,316.8C676.02,315.14 677.21,313.48 678.42,311.83C679.62,310.18 680.83,308.54 682.05,306.9C683.26,305.26 684.49,303.62 685.73,302C686.97,300.37 688.22,298.77 689.5,297.19C690.77,295.61 692.07,294.06 693.41,292.55C694.75,291.04 696.12,289.58 697.54,288.17C698.95,286.77 700.42,285.42 701.93,284.14C703.45,282.86 705.03,281.65 706.67,280.53C708.31,279.42 710.01,278.4 711.8,277.53C713.58,276.67 715.44,275.95 717.39,275.45C719.33,274.94 721.37,274.64 723.5,274.6"/>
<path stroke="#e377c2" d="M547,602.4C548.15,600.76 549.27,599.1 550.36,597.41C551.45,595.72 552.51,594.01 553.56,592.29C554.6,590.56 555.62,588.81 556.62,587.05C557.63,585.29 558.61,583.52 559.59,581.73C560.56,579.94 561.52,578.14 562.47,576.33C563.42,574.53 564.37,572.71 565.3,570.89C566.24,569.07 567.18,567.24 568.11,565.41C569.04,563.58 569.98,561.75 570.92,559.92C571.85,558.09 572.8,556.27 573.75,554.44C574.7,552.62 575.66,550.8 576.63,548.99C577.61,547.18 578.59,545.38 579.59,543.59C580.6,541.8 581.62,540.03 582.66,538.26C583.71,536.5 584.77,534.75 585.86,533.02C586.95,531.29 588.07,529.58 589.22,527.89C590.36,526.2 591.54,524.53 592.76,522.88C593.97,521.24 595.22,519.62 596.5,518.03C597.79,516.44 599.1,514.87 600.46,513.34C601.81,511.81 603.2,510.31 604.62,508.85C606.04,507.38 607.49,505.95 608.98,504.56C610.47,503.17 611.99,501.81 613.54,500.5C615.1,499.19 616.68,497.92 618.3,496.69C619.91,495.47 621.56,494.29 623.24,493.15C624.92,492.02 626.63,490.94 628.37,489.9C630.11,488.87 631.88,487.89 633.68,486.96C635.48,486.04 637.31,485.16 639.16,484.36C641.02,483.56 642.9,482.82 644.8,482.17C646.71,481.53 648.64,480.96 650.58,480.5C652.53,480.04 654.5,479.68 656.48,479.44C658.47,479.2 660.47,479.08 662.48,479.08C664.5,479.09 666.52,479.25 668.56,479.48C670.6,479.71 672.64,480.02 674.7,480.36C676.75,480.69 678.81,481.05 680.87,481.42C682.93,481.79 685,482.17 687.06,482.54C689.13,482.91 691.19,483.28 693.26,483.62C695.32,483.96 697.38,484.27 699.43,484.54C701.48,484.81 703.52,485.04 705.56,485.21C707.59,485.38 709.62,485.49 711.63,485.55C713.64,485.61 715.63,485.62 717.61,485.59C719.59,485.56 721.56,485.5 723.5,485.4"/>
<path stroke="#ff7f0e" d="M547,447C549.08,446.77 551.15,446.61 553.21,446.5C555.27,446.39 557.31,446.34 559.35,446.34C561.39,446.34 563.41,446.4 565.43,446.51C567.44,446.62 569.45,446.77 571.44,446.98C573.44,447.19 575.43,447.44 577.41,447.74C579.38,448.04 581.36,448.39 583.32,448.78C585.28,449.16 587.24,449.59 589.19,450.06C591.14,450.53 593.08,451.04 595.02,451.59C596.96,452.13 598.89,452.71 600.81,453.32C602.74,453.94 604.66,454.58 606.58,455.24C608.5,455.91 610.41,456.59 612.32,457.3C614.23,458 616.14,458.72 618.05,459.46C619.95,460.19 621.85,460.93 623.75,461.68C625.66,462.43 627.55,463.18 629.45,463.93C631.35,464.68 633.25,465.43 635.15,466.17C637.05,466.92 638.95,467.65 640.85,468.37C642.75,469.1 644.65,469.81 646.55,470.51C648.45,471.21 650.35,471.9 652.26,472.57C654.17,473.24 656.08,473.9 657.99,474.53C659.9,475.17 661.82,475.79 663.74,476.39C665.66,476.99 667.59,477.57 669.52,478.12C671.45,478.68 673.38,479.21 675.32,479.71C677.27,480.22 679.21,480.69 681.17,481.14C683.12,481.59 685.08,482.01 687.05,482.4C689.02,482.79 691,483.15 692.98,483.47C694.97,483.79 696.96,484.08 698.96,484.33C700.97,484.58 702.98,484.8 705,484.97C707.02,485.15 709.06,485.28 711.1,485.37C713.14,485.47 715.2,485.52 717.26,485.52C719.33,485.53 721.41,485.49 723.5,485.4"/>
<path stroke="#2ca02c" d="M547,447C549.11,446.56 551.14,446.03 553.11,445.44C555.07,444.84 556.97,444.17 558.82,443.44C560.66,442.7 562.45,441.9 564.19,441.04C565.93,440.17 567.63,439.25 569.29,438.27C570.96,437.29 572.59,436.26 574.2,435.18C575.8,434.1 577.39,432.96 578.96,431.79C580.53,430.62 582.1,429.4 583.66,428.15C585.22,426.9 586.77,425.61 588.34,424.29C589.91,422.97 591.49,421.62 593.09,420.25C594.68,418.89 596.29,417.52 597.92,416.16C599.55,414.8 601.19,413.46 602.86,412.16C604.53,410.86 606.21,409.6 607.92,408.41C609.64,407.21 611.37,406.09 613.13,405.05C614.89,404.01 616.68,403.07 618.5,402.24C620.32,401.41 622.17,400.69 624.04,400.13C625.91,399.56 627.8,399.16 629.67,398.96C631.55,398.76 633.42,398.76 635.26,399C637.09,399.24 638.9,399.69 640.65,400.35C642.41,401.01 644.1,401.89 645.73,402.94C647.37,403.99 648.93,405.22 650.45,406.56C651.97,407.91 653.43,409.37 654.84,410.91C656.26,412.44 657.63,414.04 658.96,415.65C660.29,417.26 661.58,418.89 662.83,420.54C664.09,422.18 665.32,423.84 666.52,425.51C667.73,427.17 668.91,428.84 670.07,430.51C671.23,432.18 672.38,433.85 673.52,435.52C674.65,437.18 675.78,438.84 676.91,440.5C678.04,442.15 679.16,443.8 680.29,445.44C681.42,447.08 682.56,448.71 683.71,450.34C684.86,451.96 686.02,453.58 687.21,455.19C688.39,456.79 689.6,458.39 690.83,459.98C692.07,461.57 693.33,463.15 694.63,464.72C695.93,466.29 697.26,467.85 698.64,469.37C700.02,470.89 701.44,472.37 702.91,473.78C704.38,475.19 705.91,476.52 707.49,477.75C709.07,478.98 710.71,480.11 712.41,481.11C714.12,482.1 715.89,482.96 717.74,483.65C719.58,484.34 721.5,484.87 723.5,485.2"/>
<path stroke="#7f7f7f" d="M547,220.3C548.97,220.94 550.9,221.64 552.77,222.41C554.65,223.18 556.48,224 558.27,224.89C560.06,225.77 561.81,226.71 563.52,227.7C565.24,228.69 566.91,229.73 568.56,230.82C570.2,231.91 571.81,233.04 573.4,234.22C574.98,235.39 576.54,236.61 578.08,237.86C579.61,239.11 581.13,240.39 582.62,241.71C584.12,243.02 585.59,244.37 587.06,245.74C588.52,247.11 589.97,248.5 591.41,249.92C592.85,251.33 594.28,252.77 595.71,254.21C597.14,255.66 598.57,257.13 599.99,258.6C601.42,260.07 602.84,261.55 604.27,263.04C605.7,264.52 607.14,266.01 608.58,267.49C610.03,268.97 611.48,270.44 612.95,271.89C614.42,273.33 615.9,274.75 617.4,276.13C618.91,277.5 620.43,278.84 621.97,280.12C623.52,281.41 625.09,282.63 626.68,283.79C628.28,284.94 629.9,286.03 631.56,287.03C633.22,288.03 634.91,288.94 636.63,289.75C638.36,290.56 640.13,291.25 641.93,291.78C643.74,292.31 645.59,292.69 647.48,292.85C649.38,293.01 651.32,292.96 653.3,292.74C655.27,292.51 657.28,292.12 659.29,291.62C661.31,291.11 663.34,290.49 665.36,289.81C667.37,289.13 669.39,288.39 671.37,287.64C673.35,286.89 675.3,286.13 677.22,285.4C679.14,284.67 681.04,283.95 682.92,283.25C684.8,282.56 686.67,281.88 688.53,281.23C690.4,280.58 692.26,279.96 694.13,279.38C696,278.8 697.87,278.25 699.76,277.75C701.65,277.25 703.55,276.79 705.46,276.38C707.38,275.98 709.32,275.63 711.29,275.34C713.26,275.05 715.26,274.82 717.29,274.66C719.32,274.5 721.39,274.41 723.5,274.4"/>
<path stroke="#bcbd22" d="M547,220C548.94,219.22 550.9,218.47 552.85,217.77C554.81,217.07 556.77,216.41 558.74,215.79C560.71,215.17 562.68,214.58 564.66,214.03C566.63,213.47 568.62,212.95 570.6,212.46C572.59,211.97 574.58,211.51 576.58,211.08C578.58,210.65 580.58,210.24 582.58,209.86C584.59,209.48 586.6,209.12 588.61,208.78C590.62,208.44 592.64,208.13 594.66,207.83C596.68,207.52 598.7,207.24 600.73,206.97C602.75,206.7 604.78,206.44 606.81,206.2C608.85,205.95 610.88,205.71 612.92,205.48C614.96,205.25 617,205.03 619.04,204.81C621.08,204.59 623.13,204.38 625.17,204.16C627.22,203.95 629.27,203.74 631.32,203.52C633.36,203.3 635.42,203.08 637.47,202.86C639.52,202.63 641.57,202.4 643.63,202.17C645.68,201.94 647.74,201.7 649.79,201.47C651.85,201.23 653.91,200.99 655.96,200.75C658.02,200.51 660.08,200.26 662.13,200.02C664.19,199.77 666.25,199.53 668.3,199.28C670.36,199.04 672.41,198.79 674.47,198.55C676.52,198.31 678.58,198.06 680.63,197.82C682.69,197.58 684.74,197.34 686.79,197.1C688.84,196.86 690.89,196.62 692.94,196.39C694.99,196.16 697.03,195.92 699.08,195.7C701.12,195.47 703.17,195.25 705.21,195.03C707.25,194.81 709.28,194.6 711.32,194.39C713.36,194.18 715.39,193.97 717.42,193.78C719.45,193.58 721.48,193.39 723.5,193.2"/>
<path stroke="#ff7f0e" d="M547,154.2C549.04,154.2 551.08,154.19 553.12,154.17C555.15,154.14 557.19,154.1 559.22,154.05C561.26,153.99 563.29,153.93 565.33,153.85C567.36,153.77 569.39,153.68 571.43,153.58C573.46,153.48 575.49,153.37 577.52,153.24C579.55,153.12 581.58,152.99 583.61,152.85C585.64,152.71 587.67,152.56 589.7,152.4C591.72,152.24 593.75,152.08 595.78,151.91C597.8,151.73 599.83,151.55 601.86,151.37C603.88,151.18 605.91,150.99 607.93,150.79C609.96,150.6 611.98,150.4 614.01,150.19C616.03,149.99 618.06,149.78 620.08,149.56C622.1,149.35 624.13,149.14 626.15,148.92C628.18,148.7 630.2,148.48 632.22,148.26C634.25,148.05 636.27,147.82 638.29,147.6C640.32,147.38 642.34,147.16 644.36,146.94C646.39,146.73 648.41,146.51 650.43,146.29C652.46,146.08 654.48,145.86 656.51,145.65C658.53,145.44 660.56,145.23 662.58,145.03C664.61,144.83 666.63,144.63 668.66,144.44C670.68,144.24 672.71,144.05 674.73,143.87C676.76,143.69 678.79,143.51 680.82,143.34C682.84,143.17 684.87,143.01 686.9,142.86C688.93,142.7 690.96,142.56 692.99,142.42C695.02,142.29 697.05,142.16 699.08,142.04C701.11,141.93 703.14,141.82 705.18,141.73C707.21,141.63 709.24,141.55 711.28,141.47C713.31,141.4 715.35,141.34 717.39,141.3C719.42,141.25 721.46,141.22 723.5,141.2"/>
<path stroke="#9467bd" d="M547,154C549.04,154.05 551.07,154.05 553.1,154.03C555.14,154 557.17,153.94 559.2,153.84C561.23,153.75 563.26,153.62 565.29,153.47C567.32,153.32 569.34,153.14 571.37,152.93C573.39,152.73 575.42,152.5 577.44,152.25C579.47,152.01 581.49,151.74 583.51,151.46C585.53,151.17 587.56,150.88 589.58,150.56C591.6,150.25 593.62,149.93 595.64,149.6C597.66,149.27 599.68,148.93 601.7,148.59C603.72,148.25 605.73,147.9 607.75,147.55C609.77,147.2 611.79,146.86 613.81,146.51C615.83,146.17 617.84,145.83 619.86,145.49C621.88,145.16 623.9,144.83 625.92,144.52C627.94,144.2 629.95,143.9 631.97,143.61C633.99,143.32 636.01,143.05 638.03,142.79C640.05,142.54 642.07,142.3 644.09,142.08C646.11,141.85 648.13,141.65 650.16,141.47C652.18,141.28 654.2,141.11 656.22,140.97C658.25,140.82 660.27,140.69 662.3,140.58C664.32,140.48 666.35,140.39 668.38,140.32C670.41,140.25 672.43,140.19 674.46,140.16C676.49,140.12 678.53,140.1 680.56,140.09C682.59,140.08 684.63,140.09 686.66,140.11C688.7,140.12 690.73,140.15 692.77,140.19C694.81,140.23 696.85,140.28 698.9,140.33C700.94,140.39 702.98,140.45 705.03,140.52C707.07,140.58 709.12,140.65 711.17,140.73C713.22,140.8 715.28,140.88 717.33,140.96C719.38,141.04 721.44,141.12 723.5,141.2"/>
<path stroke="#e377c2" d="M547,125.4C549.14,125.4 551.27,125.45 553.38,125.54C555.49,125.63 557.58,125.76 559.66,125.94C561.74,126.11 563.81,126.33 565.86,126.58C567.91,126.84 569.95,127.13 571.97,127.47C574,127.8 576.01,128.17 578.01,128.58C580.01,128.98 582,129.42 583.97,129.9C585.95,130.37 587.91,130.88 589.86,131.43C591.82,131.97 593.76,132.54 595.69,133.14C597.62,133.75 599.55,134.38 601.46,135.05C603.37,135.71 605.27,136.4 607.17,137.12C609.06,137.83 610.95,138.58 612.83,139.35C614.71,140.12 616.58,140.91 618.44,141.73C620.3,142.54 622.16,143.38 624.01,144.25C625.86,145.11 627.7,145.99 629.54,146.89C631.37,147.79 633.21,148.71 635.03,149.65C636.86,150.59 638.68,151.54 640.5,152.51C642.32,153.48 644.13,154.47 645.94,155.47C647.75,156.47 649.56,157.48 651.36,158.5C653.17,159.52 654.97,160.55 656.77,161.59C658.58,162.62 660.38,163.66 662.18,164.7C663.98,165.74 665.79,166.78 667.59,167.82C669.4,168.86 671.2,169.89 673.01,170.92C674.82,171.94 676.63,172.96 678.45,173.97C680.27,174.98 682.09,175.98 683.91,176.97C685.74,177.96 687.57,178.94 689.41,179.9C691.25,180.86 693.1,181.8 694.95,182.73C696.8,183.66 698.66,184.57 700.53,185.44C702.4,186.32 704.28,187.16 706.17,187.94C708.06,188.72 709.96,189.45 711.88,190.11C713.79,190.76 715.71,191.34 717.65,191.83C719.59,192.32 721.54,192.71 723.5,193"/>
<path stroke="#7f7f7f" d="M547,125.3C549.04,125.28 551.09,125.3 553.13,125.34C555.16,125.39 557.2,125.47 559.24,125.58C561.27,125.69 563.3,125.83 565.34,126C567.37,126.16 569.39,126.36 571.42,126.58C573.45,126.8 575.47,127.05 577.5,127.32C579.52,127.59 581.54,127.88 583.57,128.19C585.59,128.5 587.61,128.83 589.63,129.17C591.64,129.52 593.66,129.88 595.68,130.24C597.7,130.61 599.71,130.99 601.73,131.37C603.74,131.76 605.76,132.15 607.77,132.54C609.78,132.93 611.8,133.32 613.81,133.71C615.82,134.1 617.84,134.49 619.85,134.87C621.86,135.25 623.88,135.63 625.89,135.99C627.9,136.35 629.92,136.71 631.93,137.04C633.94,137.38 635.96,137.71 637.97,138.01C639.99,138.32 642,138.6 644.02,138.87C646.03,139.13 648.05,139.37 650.07,139.59C652.09,139.8 654.11,139.99 656.13,140.14C658.15,140.3 660.17,140.43 662.19,140.54C664.21,140.65 666.24,140.73 668.26,140.8C670.29,140.86 672.31,140.91 674.34,140.94C676.37,140.97 678.4,140.99 680.44,141C682.47,141.01 684.5,141 686.54,141C688.58,140.99 690.62,140.98 692.66,140.96C694.7,140.95 696.75,140.93 698.79,140.92C700.84,140.91 702.89,140.9 704.94,140.9C707,140.89 709.05,140.9 711.11,140.92C713.17,140.93 715.23,140.96 717.29,141.01C719.36,141.06 721.43,141.12 723.5,141.2"/>
<path stroke="#2ca02c" d="M723.5,485.2C725.42,484.74 727.29,484.14 729.1,483.42C730.91,482.7 732.68,481.86 734.39,480.9C736.1,479.95 737.77,478.9 739.39,477.75C741.02,476.6 742.6,475.37 744.14,474.06C745.68,472.75 747.18,471.38 748.65,469.94C750.11,468.51 751.54,467.02 752.94,465.5C754.34,463.97 755.71,462.41 757.06,460.82C758.4,459.24 759.71,457.64 761.01,456.03C762.3,454.42 763.57,452.82 764.82,451.22C766.08,449.62 767.31,448.03 768.52,446.44C769.74,444.85 770.94,443.27 772.12,441.68C773.31,440.09 774.48,438.5 775.63,436.91C776.79,435.31 777.93,433.72 779.06,432.11C780.19,430.5 781.32,428.88 782.43,427.25C783.54,425.62 784.65,423.98 785.74,422.32C786.84,420.66 787.93,418.98 789.02,417.28C790.1,415.58 791.19,413.86 792.27,412.11C793.35,410.37 794.42,408.6 795.5,406.8"/>
<path stroke="#d62728" d="M723.5,485.2C725.52,485.3 727.53,485.36 729.55,485.38C731.56,485.4 733.57,485.39 735.58,485.34C737.59,485.29 739.59,485.22 741.6,485.11C743.6,485.01 745.61,484.87 747.61,484.72C749.61,484.57 751.61,484.39 753.61,484.2C755.6,484 757.6,483.79 759.6,483.57C761.59,483.34 763.59,483.11 765.58,482.86C767.58,482.62 769.57,482.37 771.57,482.11C773.56,481.86 775.56,481.6 777.55,481.34C779.54,481.08 781.54,480.83 783.53,480.58C785.52,480.33 787.52,480.09 789.51,479.86C791.51,479.62 793.5,479.4 795.5,479.2"/>
<path stroke="#9467bd" d="M723.5,485.2C725.72,485 727.89,484.68 730.01,484.26C732.14,483.84 734.22,483.31 736.26,482.69C738.31,482.07 740.31,481.36 742.28,480.56C744.25,479.77 746.19,478.9 748.1,477.95C750,477.01 751.88,476 753.73,474.93C755.58,473.86 757.4,472.74 759.21,471.57C761.01,470.4 762.79,469.19 764.56,467.94C766.33,466.69 768.08,465.41 769.81,464.11C771.55,462.81 773.27,461.49 774.99,460.15C776.71,458.82 778.42,457.48 780.12,456.14C781.83,454.81 783.53,453.47 785.23,452.15C786.94,450.83 788.64,449.52 790.35,448.24C792.06,446.97 793.77,445.71 795.5,444.5"/>
<path stroke="#8c564b" d="M723.5,485.2C725.63,485.14 727.77,485.06 729.91,484.94C732.06,484.81 734.2,484.66 736.35,484.46C738.49,484.26 740.63,484.03 742.77,483.75C744.91,483.47 747.04,483.14 749.15,482.77C751.27,482.4 753.38,481.97 755.47,481.5C757.56,481.02 759.64,480.49 761.7,479.9C763.75,479.31 765.79,478.67 767.8,477.96C769.81,477.25 771.8,476.47 773.75,475.63C775.71,474.79 777.63,473.88 779.53,472.9C781.42,471.92 783.28,470.87 785.09,469.74C786.91,468.61 788.69,467.4 790.43,466.11C792.16,464.83 793.86,463.46 795.5,462"/>
<path stroke="#7f7f7f" d="M723.5,274.4C725.68,274.61 727.79,274.96 729.83,275.41C731.88,275.87 733.86,276.44 735.78,277.11C737.7,277.79 739.57,278.56 741.38,279.43C743.19,280.3 744.95,281.25 746.67,282.29C748.38,283.33 750.05,284.44 751.68,285.62C753.31,286.8 754.91,288.05 756.47,289.35C758.03,290.65 759.56,292.01 761.06,293.4C762.56,294.8 764.04,296.24 765.49,297.71C766.95,299.18 768.39,300.68 769.82,302.19C771.24,303.71 772.65,305.25 774.06,306.79C775.47,308.33 776.87,309.87 778.27,311.41C779.67,312.95 781.07,314.49 782.48,316C783.88,317.51 785.3,319.01 786.72,320.48C788.15,321.94 789.59,323.37 791.05,324.77C792.51,326.16 793.99,327.51 795.5,328.8"/>
<path stroke="#17becf" d="M723.5,274.4C725.56,274.41 727.6,274.51 729.64,274.67C731.67,274.84 733.69,275.07 735.7,275.36C737.71,275.65 739.71,275.99 741.71,276.38C743.7,276.77 745.69,277.2 747.67,277.65C749.65,278.11 751.63,278.6 753.61,279.1C755.58,279.61 757.55,280.13 759.53,280.65C761.5,281.17 763.47,281.7 765.44,282.22C767.42,282.74 769.39,283.24 771.37,283.73C773.35,284.21 775.34,284.67 777.33,285.1C779.32,285.52 781.32,285.91 783.33,286.25C785.33,286.59 787.35,286.88 789.38,287.11C791.41,287.34 793.45,287.51 795.5,287.6"/>
<path stroke="#2ca02c" d="M723.5,193.2C725.62,193.2 727.73,193.29 729.82,193.46C731.9,193.63 733.97,193.88 736.03,194.2C738.09,194.52 740.13,194.91 742.16,195.36C744.19,195.8 746.21,196.31 748.22,196.87C750.22,197.42 752.22,198.02 754.21,198.66C756.2,199.3 758.18,199.98 760.15,200.68C762.13,201.38 764.1,202.11 766.06,202.85C768.02,203.6 769.99,204.36 771.94,205.12C773.9,205.88 775.86,206.65 777.82,207.41C779.78,208.17 781.73,208.93 783.69,209.67C785.65,210.41 787.62,211.13 789.58,211.82C791.55,212.51 793.52,213.17 795.5,213.8"/>
<path stroke="#d62728" d="M723.5,193C725.66,193.03 727.79,192.94 729.89,192.74C731.99,192.55 734.06,192.24 736.11,191.85C738.17,191.45 740.2,190.97 742.21,190.42C744.22,189.86 746.22,189.24 748.2,188.55C750.18,187.87 752.15,187.14 754.11,186.37C756.07,185.59 758.02,184.78 759.97,183.95C761.92,183.12 763.86,182.27 765.8,181.42C767.74,180.57 769.69,179.71 771.63,178.87C773.58,178.03 775.53,177.21 777.49,176.41C779.46,175.62 781.42,174.86 783.41,174.14C785.39,173.43 787.39,172.77 789.4,172.17C791.41,171.58 793.45,171.05 795.5,170.6"/>
<path stroke="#e377c2" d="M723.5,141.2C725.5,141.17 727.5,141.12 729.5,141.08C731.5,141.03 733.5,140.98 735.5,140.92C737.5,140.86 739.5,140.8 741.5,140.74C743.5,140.68 745.5,140.61 747.5,140.54C749.5,140.48 751.5,140.41 753.5,140.34C755.5,140.27 757.5,140.2 759.5,140.14C761.5,140.07 763.5,140.01 765.5,139.94C767.5,139.88 769.5,139.82 771.5,139.77C773.5,139.71 775.5,139.66 777.5,139.62C779.5,139.57 781.5,139.53 783.5,139.5C785.5,139.47 787.5,139.44 789.5,139.42C791.5,139.41 793.5,139.4 795.5,139.4"/>
<path stroke="#7f7f7f" d="M723.5,141.2C725.49,141.48 727.48,141.75 729.48,142C731.47,142.25 733.47,142.49 735.46,142.71C737.46,142.93 739.46,143.15 741.46,143.35C743.46,143.55 745.46,143.74 747.46,143.93C749.46,144.11 751.46,144.29 753.46,144.46C755.46,144.63 757.46,144.8 759.47,144.96C761.47,145.13 763.47,145.29 765.48,145.45C767.48,145.61 769.48,145.77 771.49,145.93C773.49,146.09 775.49,146.25 777.49,146.42C779.5,146.59 781.5,146.76 783.5,146.94C785.5,147.12 787.5,147.3 789.5,147.49C791.5,147.69 793.5,147.89 795.5,148.1"/>
<path stroke="#1f77b4" d="M723.5,141.2C725.49,141.43 727.48,141.65 729.48,141.85C731.47,142.05 733.47,142.24 735.46,142.42C737.46,142.59 739.46,142.76 741.45,142.91C743.45,143.06 745.45,143.21 747.45,143.34C749.45,143.47 751.45,143.59 753.45,143.71C755.45,143.82 757.45,143.93 759.45,144.02C761.45,144.12 763.45,144.21 765.46,144.29C767.46,144.38 769.46,144.45 771.46,144.53C773.47,144.6 775.47,144.66 777.47,144.73C779.48,144.79 781.48,144.84 783.48,144.9C785.49,144.95 787.49,145.01 789.49,145.06C791.49,145.11 793.5,145.15 795.5,145.2"/>
<path stroke="#ff7f0e" d="M723.5,141.2C733.63,141.01 743.77,140.83 753.9,140.7C767.77,140.53 781.63,140.46 795.5,140.4"/>
<path stroke="#d62728" d="M795.5,479.5C797.47,479.22 799.44,478.79 801.4,478.26C803.36,477.73 805.32,477.1 807.27,476.41C809.22,475.72 811.17,474.96 813.12,474.19C815.07,473.41 817.02,472.62 818.97,471.84C820.92,471.06 822.87,470.3 824.83,469.6C826.78,468.9 828.75,468.26 830.71,467.71C832.68,467.17 834.66,466.72 836.65,466.42C838.63,466.11 840.63,465.95 842.64,465.88C844.65,465.81 846.67,465.83 848.7,465.89C850.74,465.96 852.79,466.07 854.86,466.17C856.93,466.27 859.01,466.37 861.12,466.4C863.22,466.44 865.35,466.42 867.5,466.3"/>
<path stroke="#8c564b" d="M795.5,462C797.5,462.05 799.51,462.12 801.51,462.22C803.51,462.31 805.51,462.42 807.51,462.55C809.5,462.67 811.5,462.81 813.5,462.96C815.5,463.1 817.5,463.26 819.49,463.42C821.49,463.58 823.49,463.74 825.48,463.9C827.48,464.06 829.48,464.22 831.47,464.38C833.47,464.53 835.47,464.68 837.46,464.82C839.46,464.95 841.46,465.08 843.46,465.19C845.46,465.3 847.46,465.39 849.46,465.46C851.46,465.53 853.46,465.58 855.46,465.61C857.47,465.63 859.47,465.63 861.48,465.6C863.48,465.56 865.49,465.5 867.5,465.4"/>
<path stroke="#7f7f7f" d="M795.5,444.3C797.69,444.54 799.83,444.62 801.91,444.56C804,444.5 806.04,444.3 808.03,443.97C810.02,443.64 811.97,443.19 813.87,442.62C815.77,442.05 817.63,441.38 819.45,440.6C821.27,439.83 823.04,438.95 824.79,438C826.53,437.05 828.23,436.01 829.9,434.91C831.57,433.81 833.21,432.64 834.82,431.43C836.42,430.21 838,428.94 839.55,427.64C841.1,426.33 842.62,424.99 844.13,423.64C845.64,422.28 847.14,420.91 848.64,419.54C850.14,418.18 851.65,416.81 853.16,415.47C854.67,414.13 856.2,412.81 857.76,411.53C859.31,410.25 860.89,409.01 862.51,407.83C864.13,406.66 865.79,405.54 867.5,404.5"/>
<path stroke="#17becf" d="M795.5,406.5C797.51,406.78 799.53,406.9 801.55,406.91C803.57,406.91 805.58,406.8 807.6,406.6C809.62,406.39 811.65,406.1 813.67,405.74C815.69,405.39 817.71,404.97 819.73,404.52C821.74,404.07 823.76,403.59 825.78,403.1C827.79,402.62 829.81,402.13 831.82,401.67C833.83,401.21 835.84,400.77 837.84,400.39C839.85,400.01 841.85,399.69 843.84,399.45C845.84,399.21 847.83,399.05 849.81,399.01C851.8,398.97 853.78,399.04 855.75,399.26C857.72,399.47 859.69,399.83 861.65,400.36C863.61,400.89 865.56,401.6 867.5,402.5"/>
<path stroke="#ff7f0e" d="M795.5,329.5C797.58,329.28 799.65,329.22 801.7,329.3C803.75,329.38 805.79,329.59 807.82,329.92C809.84,330.24 811.86,330.67 813.86,331.17C815.87,331.68 817.86,332.26 819.85,332.89C821.83,333.52 823.82,334.19 825.79,334.88C827.77,335.57 829.74,336.28 831.71,336.97C833.68,337.66 835.65,338.34 837.61,338.97C839.58,339.6 841.55,340.19 843.52,340.7C845.5,341.21 847.47,341.65 849.45,341.98C851.43,342.31 853.42,342.53 855.41,342.59C857.41,342.65 859.41,342.54 861.42,342.21C863.44,341.88 865.46,341.33 867.5,340.5"/>
<path stroke="#d62728" d="M795.5,287.6C797.71,287.74 799.81,288.05 801.83,288.49C803.85,288.93 805.78,289.52 807.64,290.22C809.5,290.93 811.28,291.75 813,292.69C814.72,293.62 816.38,294.65 817.98,295.77C819.58,296.89 821.13,298.1 822.65,299.37C824.16,300.64 825.63,301.97 827.07,303.36C828.51,304.74 829.93,306.18 831.32,307.64C832.72,309.1 834.1,310.59 835.47,312.09C836.84,313.59 838.21,315.11 839.59,316.61C840.96,318.11 842.34,319.61 843.74,321.08C845.14,322.55 846.55,323.99 848,325.39C849.45,326.79 850.92,328.14 852.44,329.43C853.95,330.72 855.51,331.94 857.12,333.08C858.73,334.23 860.39,335.29 862.12,336.24C863.84,337.2 865.63,338.06 867.5,338.8"/>
<path stroke="#8c564b" d="M795.5,214C797.65,214.09 799.78,214.05 801.88,213.92C803.99,213.79 806.07,213.56 808.14,213.24C810.2,212.92 812.25,212.51 814.28,212.03C816.31,211.55 818.32,211 820.32,210.39C822.33,209.79 824.32,209.12 826.3,208.41C828.28,207.7 830.25,206.95 832.21,206.17C834.17,205.4 836.13,204.59 838.08,203.77C840.04,202.95 841.99,202.12 843.94,201.28C845.89,200.45 847.84,199.62 849.79,198.81C851.74,197.99 853.69,197.19 855.65,196.42C857.61,195.66 859.58,194.92 861.55,194.23C863.52,193.53 865.51,192.89 867.5,192.3"/>
<path stroke="#7f7f7f" d="M795.5,170.9C797.65,170.79 799.77,170.82 801.87,170.95C803.97,171.08 806.04,171.31 808.09,171.65C810.14,171.98 812.17,172.4 814.18,172.89C816.19,173.39 818.19,173.96 820.17,174.59C822.16,175.21 824.13,175.89 826.09,176.61C828.05,177.33 830.01,178.09 831.96,178.87C833.91,179.65 835.85,180.45 837.8,181.25C839.74,182.06 841.69,182.86 843.64,183.65C845.59,184.44 847.54,185.22 849.51,185.96C851.47,186.71 853.44,187.42 855.42,188.08C857.4,188.74 859.4,189.35 861.41,189.89C863.42,190.44 865.45,190.91 867.5,191.3"/>
<path stroke="#17becf" d="M795.5,147.6C797.5,147.56 799.5,147.55 801.5,147.55C803.5,147.55 805.5,147.57 807.5,147.61C809.5,147.64 811.5,147.69 813.5,147.74C815.5,147.8 817.5,147.87 819.5,147.94C821.5,148.01 823.5,148.09 825.5,148.17C827.5,148.24 829.5,148.32 831.5,148.4C833.5,148.48 835.5,148.55 837.5,148.62C839.5,148.69 841.5,148.75 843.5,148.8C845.5,148.85 847.5,148.89 849.5,148.91C851.5,148.93 853.5,148.94 855.5,148.93C857.5,148.92 859.5,148.89 861.5,148.84C863.5,148.78 865.5,148.7 867.5,148.6"/>
<path stroke="#ff7f0e" d="M795.5,144.1C797.51,144 799.52,143.93 801.52,143.89C803.53,143.84 805.53,143.82 807.54,143.83C809.54,143.83 811.55,143.86 813.55,143.91C815.55,143.96 817.55,144.02 819.55,144.11C821.55,144.19 823.55,144.29 825.55,144.4C827.55,144.51 829.55,144.64 831.55,144.77C833.55,144.91 835.55,145.06 837.54,145.21C839.54,145.36 841.54,145.52 843.54,145.68C845.53,145.84 847.53,146.01 849.53,146.18C851.52,146.34 853.52,146.51 855.52,146.67C857.51,146.84 859.51,147 861.51,147.16C863.5,147.31 865.5,147.46 867.5,147.6"/>
<path stroke="#8c564b" d="M795.5,140.7C806.63,140.38 817.77,140.07 828.9,139.7C841.77,139.28 854.63,138.79 867.5,138.3"/>
</g>
<g clip-path="url(#cD)" fill="none" stroke-width="2.8" stroke-linecap="square" stroke-linejoin="round">
<polyline stroke="#1f77b4" points="890.2,123.5 891,124.8 899.8,128.7 905.8,132.5 913.4,135.8 927.6,138 945,138.5 970,139.3 1080.4,141 993.5,143.7 1080.4,149.7 970,152.2 945,153 896.2,155.2 900.3,189.3 904.9,192.4 899.2,195.4 903.6,200.3 903.3,209.6 902.5,220 901.9,226.6 898.7,230.4 894.3,234.8 892.7,240.8 892.7,247.3 893.5,255 894.8,263.2 896.2,274.7 900.3,280.7 904.1,284.5 911,286.7 907.4,291.1 904,293.6 901.4,295.5 899.2,300.9 898.1,308 896.5,316.2 896.5,322.8 893.7,330.5 891.6,339.2 894.3,348 894.6,353.4 892.1,360 892.7,374.8 896.5,378 900.3,381.9 901.1,384 904.7,386.8 902.5,391.7 900.6,399.4 902,403.7 900.6,409.2 901.4,415.8 903.9,419.6 905.5,425.6 906.6,430 902.5,434.3 901.9,438.2 904.7,441.5 911.2,444.2 918.9,446.9 913.4,449.7 918.3,458.4 912.3,461.4 921.6,466.1 921.6,467.2 916.7,472.1 914.2,475.9 914,478.7 910.1,481.4 901.4,483.6 895.4,486.6 893.7,492.3 892.1,504.3 891.7,516.4 890.9,527.3 889.9,540"/>
</g>
<rect x="131.5" y="49.4" width="207.0" height="629.0" fill="none" stroke="#000" stroke-width="2.9" stroke-linejoin="miter"/>
<rect x="359.5" y="49.4" width="508.0" height="629.0" fill="none" stroke="#000" stroke-width="2.9" stroke-linejoin="miter"/>
<rect x="889.5" y="49.4" width="200.0" height="629.0" fill="none" stroke="#000" stroke-width="2.9" stroke-linejoin="miter"/>
<path d="M131.5,85.45h9.6M338.5,85.45h-10.5M131.5,159.3h9.6M338.5,159.3h-10.5M131.5,233.15h9.6M338.5,233.15h-10.5M131.5,307h9.6M338.5,307h-10.5M131.5,380.85h9.6M338.5,380.85h-10.5M131.5,454.7h9.6M338.5,454.7h-10.5M131.5,528.55h9.6M338.5,528.55h-10.5M131.5,602.4h9.6M338.5,602.4h-10.5M131.5,676.25h9.6M338.5,676.25h-10.5M359.5,85.45h9.6M867.5,85.45h-10.5M359.5,159.3h9.6M867.5,159.3h-10.5M359.5,233.15h9.6M867.5,233.15h-10.5M359.5,307h9.6M867.5,307h-10.5M359.5,380.85h9.6M867.5,380.85h-10.5M359.5,454.7h9.6M867.5,454.7h-10.5M359.5,528.55h9.6M867.5,528.55h-10.5M359.5,602.4h9.6M867.5,602.4h-10.5M359.5,676.25h9.6M867.5,676.25h-10.5M889.5,85.45h9.6M1089.5,85.45h-10.5M889.5,159.3h9.6M1089.5,159.3h-10.5M889.5,233.15h9.6M1089.5,233.15h-10.5M889.5,307h9.6M1089.5,307h-10.5M889.5,380.85h9.6M1089.5,380.85h-10.5M889.5,454.7h9.6M1089.5,454.7h-10.5M889.5,528.55h9.6M1089.5,528.55h-10.5M889.5,602.4h9.6M1089.5,602.4h-10.5M889.5,676.25h9.6M1089.5,676.25h-10.5M131.5,49.4v9.6M131.5,678.4v-9.6M275.5,49.4v9.6M275.5,678.4v-9.6M338.5,49.4v9.6M338.5,678.4v-9.6M359.5,49.4v9.6M359.5,678.4v-9.6M547,49.4v9.6M547,678.4v-9.6M723.5,49.4v9.6M723.5,678.4v-9.6M795.5,49.4v9.6M795.5,678.4v-9.6M867.5,49.4v9.6M867.5,678.4v-9.6M889.5,49.4v9.6M889.5,678.4v-9.6M1061.5,49.4v9.6M1061.5,678.4v-9.6" stroke="#000" stroke-width="2.9" fill="none"/>
<line x1="132.95" y1="602.4" x2="337.05" y2="602.4" stroke="#00007a" stroke-width="1.1" stroke-dasharray="2.6 1.3"/>
<line x1="360.95" y1="602.4" x2="866.05" y2="602.4" stroke="#00007a" stroke-width="1.1" stroke-dasharray="2.6 1.3"/>
<line x1="890.95" y1="602.4" x2="1088.05" y2="602.4" stroke="#00007a" stroke-width="1.1" stroke-dasharray="2.6 1.3"/>
<text x="122" y="96.25" text-anchor="end">17.5</text>
<text x="122" y="170.1" text-anchor="end">15.0</text>
<text x="122" y="243.95" text-anchor="end">12.5</text>
<text x="122" y="317.8" text-anchor="end">10.0</text>
<text x="122" y="391.65" text-anchor="end">7.5</text>
<text x="122" y="465.5" text-anchor="end">5.0</text>
<text x="122" y="539.35" text-anchor="end">2.5</text>
<text x="122" y="613.2" text-anchor="end">0.0</text>
<text x="122" y="687.05" text-anchor="end"><tspan stroke="#000" stroke-width="1.4">−</tspan>2.5</text>
<text x="131.5" y="706.7" text-anchor="middle">Γ</text>
<text x="275.5" y="708.8" text-anchor="middle">X</text>
<text x="338.5" y="708.8" text-anchor="middle">U</text>
<text x="359.5" y="708.8" text-anchor="middle">K</text>
<text x="547" y="706.7" text-anchor="middle">Γ</text>
<text x="723.5" y="708.8" text-anchor="middle">L</text>
<text x="795.5" y="708.8" text-anchor="middle">W</text>
<text x="867.5" y="708.8" text-anchor="middle">X</text>
<text x="888.7" y="708.8" text-anchor="middle">0</text>
<text x="1061.5" y="708.8" text-anchor="middle">20</text>
<text transform="translate(40.2,364) rotate(-90)" text-anchor="middle">Frequency</text>
</svg></body></html>
